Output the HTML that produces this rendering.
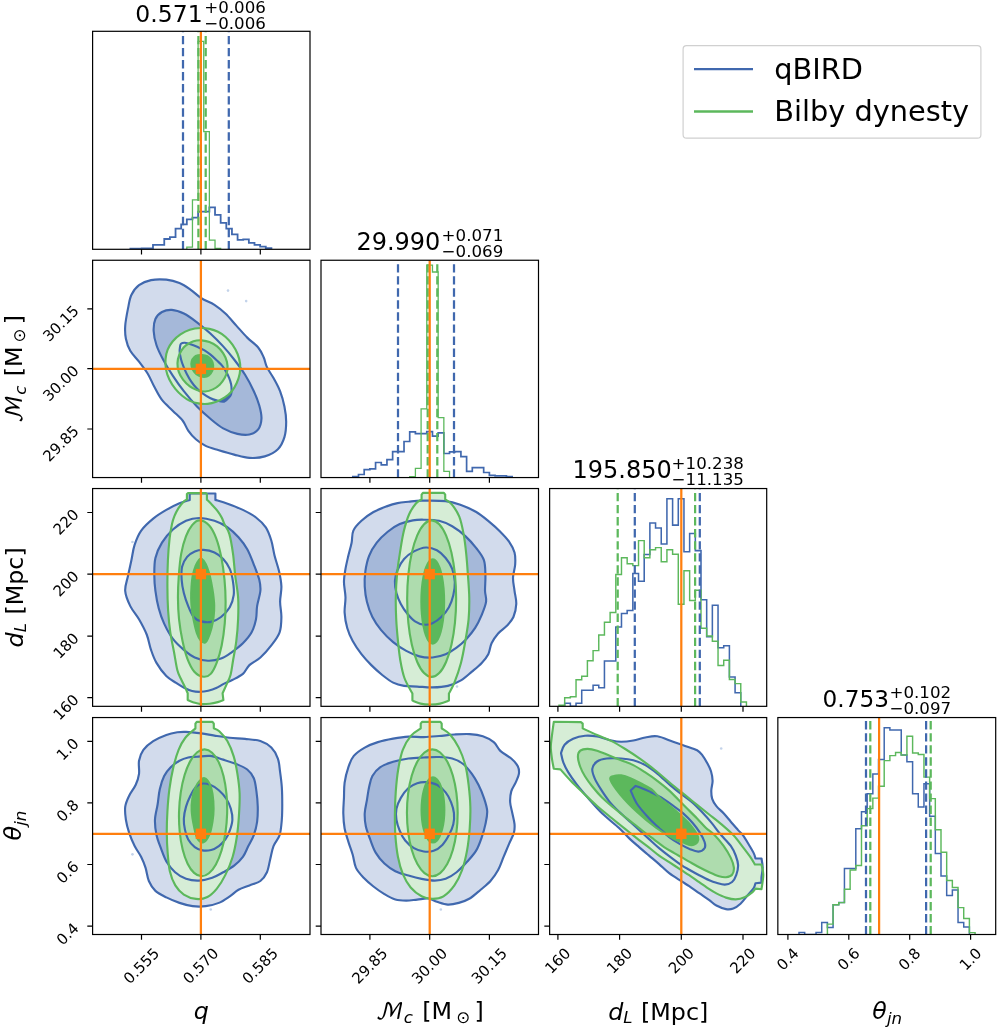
<!DOCTYPE html>
<html lang="en"><head><meta charset="utf-8"><title>Corner plot: qBIRD vs Bilby dynesty</title>
<style>html,body{margin:0;padding:0;background:#fff}svg{display:block}</style></head>
<body>
<svg width="997" height="1027" viewBox="0 0 997 1027">
<rect width="997" height="1027" fill="#fff"/>
<defs>
<clipPath id="cp00"><rect x="92.6" y="31.3" width="217.4" height="218"/></clipPath>
<clipPath id="cp10"><rect x="92.6" y="260.25" width="217.4" height="217.3"/></clipPath>
<clipPath id="cp11"><rect x="321" y="260.25" width="217.5" height="217.3"/></clipPath>
<clipPath id="cp20"><rect x="92.6" y="488.54" width="217.4" height="217.79"/></clipPath>
<clipPath id="cp21"><rect x="321" y="488.54" width="217.5" height="217.79"/></clipPath>
<clipPath id="cp22"><rect x="549.63" y="488.54" width="217.07" height="217.79"/></clipPath>
<clipPath id="cp30"><rect x="92.6" y="717.55" width="217.4" height="216.95"/></clipPath>
<clipPath id="cp31"><rect x="321" y="717.55" width="217.5" height="216.95"/></clipPath>
<clipPath id="cp32"><rect x="549.63" y="717.55" width="217.07" height="216.95"/></clipPath>
<clipPath id="cp33"><rect x="777.84" y="717.55" width="217.86" height="216.95"/></clipPath>
</defs>
<g clip-path="url(#cp10)">
<circle cx="228.02" cy="290.61" r="1.3" fill="#c3d3ea"/>
<circle cx="246.17" cy="301.11" r="1.3" fill="#c3d3ea"/>
<path d="M131.36 294.99C133.18 291.16 135.73 287.63 139.02 285.15C142.3 282.67 146.49 281.03 151.04 280.12C155.6 279.21 161.61 279.21 166.35 279.68C171.09 280.15 175.46 281.32 179.47 282.96C183.48 284.6 186.76 286.97 190.4 289.52C194.05 292.07 197.33 295.72 201.34 298.27C205.35 300.82 210.45 302.28 214.46 304.83C218.47 307.38 221.75 310.11 225.39 313.58C229.04 317.04 232.68 321.59 236.33 325.6C239.97 329.61 243.61 333.98 247.26 337.63C250.9 341.27 255.46 344.19 258.19 347.47C260.93 350.75 262.2 354.03 263.66 357.31C265.12 360.59 265.3 363.69 266.94 367.15C268.58 370.61 271.31 374.08 273.5 378.08C275.69 382.09 278.24 386.47 280.06 391.2C281.88 395.94 283.41 401.41 284.43 406.51C285.45 411.61 286.18 416.72 286.18 421.82C286.18 426.92 285.82 432.57 284.43 437.13C283.05 441.68 281.15 445.95 277.87 449.15C274.59 452.36 269.49 454.91 264.75 456.37C260.02 457.83 254.55 458.19 249.45 457.9C244.34 457.61 239.24 455.9 234.14 454.62C229.04 453.34 223.57 451.7 218.83 450.25C214.09 448.79 209.54 447.7 205.71 445.87C201.88 444.05 198.79 441.86 195.87 439.31C192.95 436.76 190.4 433.66 188.22 430.57C186.03 427.47 185.3 424.01 182.75 420.73C180.2 417.45 176.37 414.35 172.91 410.89C169.45 407.42 165.07 403.96 161.98 399.95C158.88 395.94 156.69 391.2 154.32 386.83C151.95 382.46 150.31 377.9 147.76 373.71C145.21 369.52 141.93 365.51 139.02 361.68C136.1 357.86 132.45 354.58 130.27 350.75C128.08 346.92 126.73 342.91 125.89 338.72C125.06 334.53 124.87 330.7 125.24 325.6C125.6 320.5 127.06 313.21 128.08 308.11C129.1 303.01 129.54 298.81 131.36 294.99Z" fill="#d2dbec"/>
<path d="M155.42 319.04C156.8 315.87 159.24 313.58 161.98 312.04C164.71 310.51 168.17 309.6 171.82 309.86C175.46 310.11 179.65 311.5 183.84 313.58C188.03 315.65 192.59 319.04 196.96 322.32C201.34 325.6 205.71 329.25 210.08 333.26C214.46 337.27 219.2 342 223.2 346.38C227.21 350.75 230.49 354.76 234.14 359.5C237.78 364.24 241.79 369.52 245.07 374.8C248.35 380.09 251.45 386.1 253.82 391.2C256.19 396.31 258.01 400.86 259.29 405.42C260.56 409.97 261.66 414.53 261.47 418.54C261.29 422.55 260.2 426.81 258.19 429.47C256.19 432.13 252.91 433.77 249.45 434.5C245.98 435.23 241.79 434.87 237.42 433.85C233.05 432.83 227.76 430.93 223.2 428.38C218.65 425.83 214.46 422.18 210.08 418.54C205.71 414.89 201.34 411.07 196.96 406.51C192.59 401.96 187.85 396.31 183.84 391.2C179.83 386.1 176.37 381.18 172.91 375.9C169.45 370.61 165.8 364.6 163.07 359.5C160.34 354.39 158.08 350.02 156.51 345.28C154.94 340.55 153.85 335.44 153.67 331.07C153.48 326.7 154.03 322.21 155.42 319.04Z" fill="#a5b8d9"/>
<path d="M180 347C180.22 345.62 180.2 344.5 181 343.8C181.8 343.1 183.08 342.7 184.8 342.8C186.52 342.9 189.15 343.7 191.3 344.4C193.45 345.1 195.57 346.03 197.7 347C199.83 347.97 201.97 348.92 204.1 350.2C206.23 351.48 208.37 352.98 210.5 354.7C212.63 356.42 214.97 358.68 216.9 360.5C218.83 362.32 220.6 363.78 222.1 365.6C223.6 367.42 224.73 369.37 225.9 371.4C227.07 373.43 228.23 375.67 229.1 377.8C229.97 379.93 230.68 382.25 231.1 384.2C231.52 386.15 231.58 387.9 231.6 389.5C231.62 391.1 231.53 392.58 231.2 393.8C230.87 395.02 230.78 395.5 229.6 396.8C228.42 398.1 226.28 401 224.1 401.6C221.92 402.2 218.85 401 216.5 400.4C214.15 399.8 212.38 399.2 210 398C207.62 396.8 204.47 394.85 202.2 393.2C199.93 391.55 198.22 390.03 196.4 388.1C194.58 386.17 192.9 383.97 191.3 381.6C189.7 379.23 188.08 376.35 186.8 373.9C185.52 371.45 184.57 369.35 183.6 366.9C182.63 364.45 181.65 361.67 181 359.2C180.35 356.73 179.87 354.13 179.7 352.1C179.53 350.07 179.78 348.38 180 347Z" fill="#4068ae"/>
<path d="M200.92 327.98C204.19 327.84 206.6 328.2 209.45 328.84C212.29 329.48 215.27 330.47 217.97 331.82C220.67 333.17 223.23 334.8 225.64 336.94C228.06 339.07 230.47 341.77 232.46 344.61C234.45 347.45 236.3 350.72 237.58 353.99C238.86 357.25 239.78 360.95 240.14 364.22C240.49 367.48 240.28 370.47 239.71 373.59C239.14 376.72 238.08 379.99 236.73 382.97C235.38 385.95 233.6 389.08 231.61 391.5C229.62 393.91 227.35 395.76 224.79 397.46C222.23 399.17 219.11 400.66 216.27 401.73C213.42 402.79 210.72 403.57 207.74 403.86C204.76 404.14 201.35 403.93 198.36 403.43C195.38 402.93 192.54 402.15 189.84 400.87C187.14 399.6 184.58 397.75 182.17 395.76C179.75 393.77 177.48 391.64 175.35 388.94C173.21 386.24 170.94 382.83 169.38 379.56C167.81 376.29 166.61 372.74 165.97 369.33C165.33 365.92 165.26 362.37 165.54 359.1C165.83 355.83 166.46 352.71 167.67 349.72C168.88 346.74 170.66 343.76 172.79 341.2C174.92 338.64 177.62 336.3 180.46 334.38C183.3 332.46 186.43 330.75 189.84 329.69C193.25 328.62 197.65 328.13 200.92 327.98Z" fill="#d6edd6"/>
<path d="M201.77 340.35C203.9 340.6 206.89 341.06 209.45 342.05C212 343.04 214.85 344.47 217.12 346.31C219.39 348.16 221.45 350.58 223.09 353.13C224.72 355.69 226.21 358.82 226.92 361.66C227.63 364.5 227.7 367.48 227.35 370.18C226.99 372.88 226.07 375.44 224.79 377.86C223.51 380.27 221.67 382.76 219.68 384.68C217.69 386.59 215.27 388.23 212.86 389.36C210.44 390.5 207.74 391.35 205.18 391.5C202.63 391.64 200.07 391.07 197.51 390.22C194.95 389.36 192.25 388.16 189.84 386.38C187.42 384.61 184.87 381.98 183.02 379.56C181.17 377.15 179.68 374.59 178.76 371.89C177.83 369.19 177.41 366.2 177.48 363.36C177.55 360.52 178.12 357.54 179.18 354.84C180.25 352.14 181.95 349.23 183.87 347.17C185.79 345.11 188.56 343.58 190.69 342.48C192.82 341.37 194.81 340.87 196.66 340.52C198.51 340.16 199.64 340.09 201.77 340.35Z" fill="#aedcae"/>
<path d="M202.2 355.01C203.76 355.15 205.82 355.42 207.31 356.2C208.81 356.98 210.18 358.21 211.15 359.7C212.12 361.19 212.91 363.33 213.11 365.15C213.31 366.97 213.05 368.92 212.34 370.61C211.63 372.3 210.21 374.26 208.85 375.3C207.49 376.34 205.85 376.78 204.16 376.83C202.47 376.89 200.32 376.42 198.7 375.64C197.08 374.86 195.61 373.64 194.44 372.14C193.28 370.65 192.17 368.51 191.71 366.69C191.26 364.87 191.26 362.85 191.71 361.23C192.17 359.61 193.4 357.95 194.44 356.97C195.48 355.99 196.64 355.68 197.94 355.35C199.23 355.02 200.64 354.87 202.2 355.01Z" fill="#5cb85c"/>
<path d="M131.36 294.99C133.18 291.16 135.73 287.63 139.02 285.15C142.3 282.67 146.49 281.03 151.04 280.12C155.6 279.21 161.61 279.21 166.35 279.68C171.09 280.15 175.46 281.32 179.47 282.96C183.48 284.6 186.76 286.97 190.4 289.52C194.05 292.07 197.33 295.72 201.34 298.27C205.35 300.82 210.45 302.28 214.46 304.83C218.47 307.38 221.75 310.11 225.39 313.58C229.04 317.04 232.68 321.59 236.33 325.6C239.97 329.61 243.61 333.98 247.26 337.63C250.9 341.27 255.46 344.19 258.19 347.47C260.93 350.75 262.2 354.03 263.66 357.31C265.12 360.59 265.3 363.69 266.94 367.15C268.58 370.61 271.31 374.08 273.5 378.08C275.69 382.09 278.24 386.47 280.06 391.2C281.88 395.94 283.41 401.41 284.43 406.51C285.45 411.61 286.18 416.72 286.18 421.82C286.18 426.92 285.82 432.57 284.43 437.13C283.05 441.68 281.15 445.95 277.87 449.15C274.59 452.36 269.49 454.91 264.75 456.37C260.02 457.83 254.55 458.19 249.45 457.9C244.34 457.61 239.24 455.9 234.14 454.62C229.04 453.34 223.57 451.7 218.83 450.25C214.09 448.79 209.54 447.7 205.71 445.87C201.88 444.05 198.79 441.86 195.87 439.31C192.95 436.76 190.4 433.66 188.22 430.57C186.03 427.47 185.3 424.01 182.75 420.73C180.2 417.45 176.37 414.35 172.91 410.89C169.45 407.42 165.07 403.96 161.98 399.95C158.88 395.94 156.69 391.2 154.32 386.83C151.95 382.46 150.31 377.9 147.76 373.71C145.21 369.52 141.93 365.51 139.02 361.68C136.1 357.86 132.45 354.58 130.27 350.75C128.08 346.92 126.73 342.91 125.89 338.72C125.06 334.53 124.87 330.7 125.24 325.6C125.6 320.5 127.06 313.21 128.08 308.11C129.1 303.01 129.54 298.81 131.36 294.99Z" fill="none" stroke="#4068ae" stroke-width="2.15" stroke-linejoin="round"/>
<path d="M155.42 319.04C156.8 315.87 159.24 313.58 161.98 312.04C164.71 310.51 168.17 309.6 171.82 309.86C175.46 310.11 179.65 311.5 183.84 313.58C188.03 315.65 192.59 319.04 196.96 322.32C201.34 325.6 205.71 329.25 210.08 333.26C214.46 337.27 219.2 342 223.2 346.38C227.21 350.75 230.49 354.76 234.14 359.5C237.78 364.24 241.79 369.52 245.07 374.8C248.35 380.09 251.45 386.1 253.82 391.2C256.19 396.31 258.01 400.86 259.29 405.42C260.56 409.97 261.66 414.53 261.47 418.54C261.29 422.55 260.2 426.81 258.19 429.47C256.19 432.13 252.91 433.77 249.45 434.5C245.98 435.23 241.79 434.87 237.42 433.85C233.05 432.83 227.76 430.93 223.2 428.38C218.65 425.83 214.46 422.18 210.08 418.54C205.71 414.89 201.34 411.07 196.96 406.51C192.59 401.96 187.85 396.31 183.84 391.2C179.83 386.1 176.37 381.18 172.91 375.9C169.45 370.61 165.8 364.6 163.07 359.5C160.34 354.39 158.08 350.02 156.51 345.28C154.94 340.55 153.85 335.44 153.67 331.07C153.48 326.7 154.03 322.21 155.42 319.04Z" fill="none" stroke="#4068ae" stroke-width="2.15" stroke-linejoin="round"/>
<path d="M180 347C180.22 345.62 180.2 344.5 181 343.8C181.8 343.1 183.08 342.7 184.8 342.8C186.52 342.9 189.15 343.7 191.3 344.4C193.45 345.1 195.57 346.03 197.7 347C199.83 347.97 201.97 348.92 204.1 350.2C206.23 351.48 208.37 352.98 210.5 354.7C212.63 356.42 214.97 358.68 216.9 360.5C218.83 362.32 220.6 363.78 222.1 365.6C223.6 367.42 224.73 369.37 225.9 371.4C227.07 373.43 228.23 375.67 229.1 377.8C229.97 379.93 230.68 382.25 231.1 384.2C231.52 386.15 231.58 387.9 231.6 389.5C231.62 391.1 231.53 392.58 231.2 393.8C230.87 395.02 230.78 395.5 229.6 396.8C228.42 398.1 226.28 401 224.1 401.6C221.92 402.2 218.85 401 216.5 400.4C214.15 399.8 212.38 399.2 210 398C207.62 396.8 204.47 394.85 202.2 393.2C199.93 391.55 198.22 390.03 196.4 388.1C194.58 386.17 192.9 383.97 191.3 381.6C189.7 379.23 188.08 376.35 186.8 373.9C185.52 371.45 184.57 369.35 183.6 366.9C182.63 364.45 181.65 361.67 181 359.2C180.35 356.73 179.87 354.13 179.7 352.1C179.53 350.07 179.78 348.38 180 347Z" fill="none" stroke="#4068ae" stroke-width="2.15" stroke-linejoin="round"/>
<path d="M200.92 327.98C204.19 327.84 206.6 328.2 209.45 328.84C212.29 329.48 215.27 330.47 217.97 331.82C220.67 333.17 223.23 334.8 225.64 336.94C228.06 339.07 230.47 341.77 232.46 344.61C234.45 347.45 236.3 350.72 237.58 353.99C238.86 357.25 239.78 360.95 240.14 364.22C240.49 367.48 240.28 370.47 239.71 373.59C239.14 376.72 238.08 379.99 236.73 382.97C235.38 385.95 233.6 389.08 231.61 391.5C229.62 393.91 227.35 395.76 224.79 397.46C222.23 399.17 219.11 400.66 216.27 401.73C213.42 402.79 210.72 403.57 207.74 403.86C204.76 404.14 201.35 403.93 198.36 403.43C195.38 402.93 192.54 402.15 189.84 400.87C187.14 399.6 184.58 397.75 182.17 395.76C179.75 393.77 177.48 391.64 175.35 388.94C173.21 386.24 170.94 382.83 169.38 379.56C167.81 376.29 166.61 372.74 165.97 369.33C165.33 365.92 165.26 362.37 165.54 359.1C165.83 355.83 166.46 352.71 167.67 349.72C168.88 346.74 170.66 343.76 172.79 341.2C174.92 338.64 177.62 336.3 180.46 334.38C183.3 332.46 186.43 330.75 189.84 329.69C193.25 328.62 197.65 328.13 200.92 327.98Z" fill="none" stroke="#5cb85c" stroke-width="2.15" stroke-linejoin="round"/>
<path d="M201.77 340.35C203.9 340.6 206.89 341.06 209.45 342.05C212 343.04 214.85 344.47 217.12 346.31C219.39 348.16 221.45 350.58 223.09 353.13C224.72 355.69 226.21 358.82 226.92 361.66C227.63 364.5 227.7 367.48 227.35 370.18C226.99 372.88 226.07 375.44 224.79 377.86C223.51 380.27 221.67 382.76 219.68 384.68C217.69 386.59 215.27 388.23 212.86 389.36C210.44 390.5 207.74 391.35 205.18 391.5C202.63 391.64 200.07 391.07 197.51 390.22C194.95 389.36 192.25 388.16 189.84 386.38C187.42 384.61 184.87 381.98 183.02 379.56C181.17 377.15 179.68 374.59 178.76 371.89C177.83 369.19 177.41 366.2 177.48 363.36C177.55 360.52 178.12 357.54 179.18 354.84C180.25 352.14 181.95 349.23 183.87 347.17C185.79 345.11 188.56 343.58 190.69 342.48C192.82 341.37 194.81 340.87 196.66 340.52C198.51 340.16 199.64 340.09 201.77 340.35Z" fill="none" stroke="#5cb85c" stroke-width="2.15" stroke-linejoin="round"/>
<path d="M202.2 355.01C203.76 355.15 205.82 355.42 207.31 356.2C208.81 356.98 210.18 358.21 211.15 359.7C212.12 361.19 212.91 363.33 213.11 365.15C213.31 366.97 213.05 368.92 212.34 370.61C211.63 372.3 210.21 374.26 208.85 375.3C207.49 376.34 205.85 376.78 204.16 376.83C202.47 376.89 200.32 376.42 198.7 375.64C197.08 374.86 195.61 373.64 194.44 372.14C193.28 370.65 192.17 368.51 191.71 366.69C191.26 364.87 191.26 362.85 191.71 361.23C192.17 359.61 193.4 357.95 194.44 356.97C195.48 355.99 196.64 355.68 197.94 355.35C199.23 355.02 200.64 354.87 202.2 355.01Z" fill="none" stroke="#5cb85c" stroke-width="2.15" stroke-linejoin="round"/>
</g>
<path d="M200.9 260.25V477.55M92.6 368.9H310" stroke="#ff7f0e" stroke-width="2.25" fill="none"/>
<rect x="195.7" y="363.7" width="10.4" height="10.4" fill="#ff7f0e"/>
<g clip-path="url(#cp20)">
<circle cx="132.45" cy="542.01" r="1.3" fill="#c3d3ea"/>
<path d="M189.7 499.9L189.7 493.5L215.4 493.5L215.4 499.9L215.4 499.9C217.43 500.53 223.02 502.03 227.6 503.7C232.18 505.37 238.17 507.6 242.9 509.9C247.63 512.2 252.18 514.58 256 517.5C259.82 520.42 263.25 523.57 265.8 527.4C268.35 531.23 269.83 535.77 271.3 540.5C272.77 545.23 273.32 550.7 274.6 555.8C275.88 560.9 277.87 566 279 571.1C280.13 576.2 281.22 581.3 281.4 586.4C281.58 591.5 280.1 596.6 280.1 601.7C280.1 606.8 281.48 611.9 281.4 617C281.32 622.1 281.28 627.57 279.6 632.3C277.92 637.03 274.5 641.2 271.3 645.4C268.1 649.6 264.05 654.22 260.4 657.5C256.75 660.78 252.32 662.37 249.4 665.1C246.48 667.83 245.77 671.42 242.9 673.9C240.03 676.38 235.32 678.38 232.2 680C229.08 681.62 226.87 682.25 224.2 683.6C221.53 684.95 218.87 686.92 216.2 688.1C213.53 689.28 210.88 690.08 208.2 690.7C205.52 691.32 202.78 691.75 200.1 691.8C197.42 691.85 194.77 691.68 192.1 691C189.43 690.32 186.77 689.07 184.1 687.7C181.43 686.33 179.07 684.73 176.1 682.8C173.13 680.87 169.57 679.42 166.3 676.1C163.03 672.78 159.05 667.28 156.5 662.9C153.95 658.52 152.63 654.53 151 649.8C149.37 645.07 148.7 639.6 146.7 634.5C144.7 629.4 141.73 623.93 139 619.2C136.27 614.47 132.6 610.83 130.3 606.1C128 601.37 125.57 595.9 125.2 590.8C124.83 585.7 127.07 580.6 128.1 575.5C129.13 570.4 130.32 565.3 131.4 560.2C132.48 555.1 132.97 549.83 134.6 544.9C136.23 539.97 138.1 534.98 141.2 530.6C144.3 526.22 149.02 522.05 153.2 518.6C157.38 515.15 161.92 512.45 166.3 509.9C170.68 507.35 175.6 504.97 179.5 503.3C183.4 501.63 188 500.47 189.7 499.9Z" fill="#d2dbec"/>
<path d="M199.15 517.96C203.89 517.96 209.72 519.23 214.46 520.8C219.2 522.37 223.57 524.63 227.58 527.36C231.59 530.09 235.23 533.56 238.51 537.2C241.79 540.85 244.71 544.67 247.26 549.23C249.81 553.78 251.81 559.43 253.82 564.54C255.82 569.64 258.19 575.47 259.29 579.84C260.38 584.22 260.74 586.4 260.38 590.78C260.02 595.15 257.83 601.35 257.1 606.08C256.37 610.82 256.92 614.83 256.01 619.2C255.09 623.58 253.82 628.32 251.63 632.33C249.45 636.33 246.17 639.98 242.89 643.26C239.61 646.54 235.6 649.45 231.95 652.01C228.31 654.56 225.03 657.11 221.02 658.57C217.01 660.02 212.27 660.94 207.9 660.75C203.52 660.57 198.79 659.3 194.78 657.47C190.77 655.65 187.49 652.92 183.84 649.82C180.2 646.72 176.19 643.26 172.91 638.89C169.63 634.51 166.53 628.68 164.16 623.58C161.79 618.48 160.15 613.74 158.7 608.27C157.24 602.8 156.14 596.24 155.42 590.78C154.69 585.31 154.32 580.94 154.32 575.47C154.32 570 154.14 563.44 155.42 557.98C156.69 552.51 159.06 547.41 161.98 542.67C164.89 537.93 168.9 533.19 172.91 529.55C176.92 525.9 181.66 522.73 186.03 520.8C190.4 518.87 194.41 517.96 199.15 517.96Z" fill="#a5b8d9"/>
<path d="M203.52 549.88C206.8 550.07 211.18 550.98 214.46 552.51C217.74 554.04 220.65 556.34 223.2 559.07C225.76 561.8 228.13 565.08 229.77 568.91C231.41 572.74 232.39 577.66 233.05 582.03C233.7 586.4 234.25 590.96 233.7 595.15C233.15 599.34 231.88 603.53 229.77 607.18C227.65 610.82 224.12 614.58 221.02 617.02C217.92 619.46 214.46 621.1 211.18 621.83C207.9 622.56 204.25 622.19 201.34 621.39C198.42 620.59 195.87 619.57 193.68 617.02C191.5 614.47 189.86 610.09 188.22 606.08C186.58 602.08 184.94 597.34 183.84 592.96C182.75 588.59 181.95 584.22 181.66 579.84C181.37 575.47 181.18 570.55 182.09 566.72C183.01 562.9 185.01 559.43 187.12 556.88C189.24 554.33 192.04 552.58 194.78 551.42C197.51 550.25 200.24 549.7 203.52 549.88Z" fill="#4068ae"/>
<path d="M186.9 499.65L186.9 494L188 493.1L205.8 493.1L206.9 494L206.9 499.65L206.9 499.65C207.78 500.52 210.38 502.96 212.2 504.9C214.02 506.84 216.2 509.17 217.8 511.3C219.4 513.43 220.72 515.58 221.8 517.7C222.88 519.82 223.05 521.3 224.3 524C225.55 526.7 227.85 528.97 229.3 533.9C230.75 538.83 232.02 546.67 233 553.6C233.98 560.53 234.35 568.22 235.2 575.5C236.05 582.78 237.62 590.02 238.1 597.3C238.58 604.58 238.4 611.9 238.1 619.2C237.8 626.5 237.15 634.17 236.3 641.1C235.45 648.03 233.95 655.18 233 660.8C232.05 666.42 231.67 670.87 230.6 674.8C229.53 678.73 227.93 681.32 226.6 684.4C225.27 687.48 223.27 691.82 222.6 693.3L222.6 693.3L223.4 700.1L223.4 700.1C222.47 700.43 220.07 701.5 217.8 702.1C215.53 702.7 212.62 703.37 209.8 703.7C206.98 704.03 203.58 704.3 200.9 704.1C198.22 703.9 195.9 703.17 193.7 702.5C191.5 701.83 188.7 700.5 187.7 700.1L187.7 700.1L187.7 693.3L187.7 693.3C187.23 692.23 186.03 689.32 184.9 686.9C183.77 684.48 182.17 681.62 180.9 678.8C179.63 675.98 178.45 674.47 177.3 670C176.15 665.53 175.17 658.28 174 652C172.83 645.72 171.28 639.22 170.3 632.3C169.32 625.38 168.58 618.15 168.1 610.5C167.62 602.85 167.43 594.78 167.4 586.4C167.37 578.02 167.53 568.22 167.9 560.2C168.27 552.18 168.92 544.33 169.6 538.3C170.28 532.27 171.2 527.7 172 524C172.8 520.3 173.32 518.75 174.4 516.1C175.48 513.45 176.88 510.57 178.5 508.1C180.12 505.63 182.7 502.71 184.1 501.3C185.5 499.89 186.43 499.92 186.9 499.65Z" fill="#d6edd6"/>
<path d="M199.15 520.36C201.96 520.36 206.15 522.19 208.99 525.17C211.83 528.16 214.13 532.83 216.21 538.3C218.28 543.76 220.07 551.05 221.46 557.98C222.84 564.9 223.82 572.55 224.52 579.84C225.21 587.13 225.57 594.42 225.61 601.71C225.65 609 225.39 616.29 224.74 623.58C224.08 630.87 223.02 638.89 221.67 645.45C220.33 652.01 218.47 658.2 216.64 662.94C214.82 667.68 212.93 671.58 210.74 673.87C208.55 676.17 206.26 677.08 203.52 676.72C200.79 676.35 197.04 674.71 194.34 671.69C191.64 668.66 189.31 663.67 187.34 658.57C185.37 653.46 183.92 647.63 182.53 641.07C181.15 634.51 179.8 626.49 179.03 619.2C178.27 611.92 177.98 604.63 177.94 597.34C177.9 590.05 178.27 582.76 178.81 575.47C179.36 568.18 180.02 560.16 181.22 553.6C182.42 547.04 184.21 540.85 186.03 536.11C187.85 531.37 189.97 527.8 192.15 525.17C194.34 522.55 196.34 520.36 199.15 520.36Z" fill="#aedcae"/>
<path d="M201.45 558.69C202.58 559.33 204.39 561.57 205.65 563.95C206.92 566.32 208.09 569.71 209.04 572.94C210 576.18 210.7 579.86 211.38 583.34C212.06 586.83 212.66 590.18 213.13 593.86C213.6 597.54 214.1 601.57 214.18 605.42C214.26 609.28 214.07 613.15 213.6 616.99C213.13 620.82 212.31 624.87 211.38 628.43C210.44 632 209 636.01 207.99 638.36C206.98 640.72 206.51 642.2 205.3 642.57C204.1 642.94 202.15 642.16 200.75 640.58C199.35 639.01 198.02 636.28 196.89 633.11C195.76 629.93 194.79 625.4 193.97 621.54C193.15 617.69 192.45 613.83 191.99 609.98C191.52 606.12 191.25 602.25 191.17 598.41C191.09 594.58 191.25 590.8 191.52 586.96C191.79 583.13 192.12 578.92 192.8 575.4C193.49 571.87 194.6 568.37 195.61 565.82C196.62 563.27 197.9 561.28 198.88 560.09C199.85 558.91 200.32 558.05 201.45 558.69Z" fill="#5cb85c"/>
<path d="M189.7 499.9L189.7 493.5L215.4 493.5L215.4 499.9L215.4 499.9C217.43 500.53 223.02 502.03 227.6 503.7C232.18 505.37 238.17 507.6 242.9 509.9C247.63 512.2 252.18 514.58 256 517.5C259.82 520.42 263.25 523.57 265.8 527.4C268.35 531.23 269.83 535.77 271.3 540.5C272.77 545.23 273.32 550.7 274.6 555.8C275.88 560.9 277.87 566 279 571.1C280.13 576.2 281.22 581.3 281.4 586.4C281.58 591.5 280.1 596.6 280.1 601.7C280.1 606.8 281.48 611.9 281.4 617C281.32 622.1 281.28 627.57 279.6 632.3C277.92 637.03 274.5 641.2 271.3 645.4C268.1 649.6 264.05 654.22 260.4 657.5C256.75 660.78 252.32 662.37 249.4 665.1C246.48 667.83 245.77 671.42 242.9 673.9C240.03 676.38 235.32 678.38 232.2 680C229.08 681.62 226.87 682.25 224.2 683.6C221.53 684.95 218.87 686.92 216.2 688.1C213.53 689.28 210.88 690.08 208.2 690.7C205.52 691.32 202.78 691.75 200.1 691.8C197.42 691.85 194.77 691.68 192.1 691C189.43 690.32 186.77 689.07 184.1 687.7C181.43 686.33 179.07 684.73 176.1 682.8C173.13 680.87 169.57 679.42 166.3 676.1C163.03 672.78 159.05 667.28 156.5 662.9C153.95 658.52 152.63 654.53 151 649.8C149.37 645.07 148.7 639.6 146.7 634.5C144.7 629.4 141.73 623.93 139 619.2C136.27 614.47 132.6 610.83 130.3 606.1C128 601.37 125.57 595.9 125.2 590.8C124.83 585.7 127.07 580.6 128.1 575.5C129.13 570.4 130.32 565.3 131.4 560.2C132.48 555.1 132.97 549.83 134.6 544.9C136.23 539.97 138.1 534.98 141.2 530.6C144.3 526.22 149.02 522.05 153.2 518.6C157.38 515.15 161.92 512.45 166.3 509.9C170.68 507.35 175.6 504.97 179.5 503.3C183.4 501.63 188 500.47 189.7 499.9Z" fill="none" stroke="#4068ae" stroke-width="2.15" stroke-linejoin="round"/>
<path d="M199.15 517.96C203.89 517.96 209.72 519.23 214.46 520.8C219.2 522.37 223.57 524.63 227.58 527.36C231.59 530.09 235.23 533.56 238.51 537.2C241.79 540.85 244.71 544.67 247.26 549.23C249.81 553.78 251.81 559.43 253.82 564.54C255.82 569.64 258.19 575.47 259.29 579.84C260.38 584.22 260.74 586.4 260.38 590.78C260.02 595.15 257.83 601.35 257.1 606.08C256.37 610.82 256.92 614.83 256.01 619.2C255.09 623.58 253.82 628.32 251.63 632.33C249.45 636.33 246.17 639.98 242.89 643.26C239.61 646.54 235.6 649.45 231.95 652.01C228.31 654.56 225.03 657.11 221.02 658.57C217.01 660.02 212.27 660.94 207.9 660.75C203.52 660.57 198.79 659.3 194.78 657.47C190.77 655.65 187.49 652.92 183.84 649.82C180.2 646.72 176.19 643.26 172.91 638.89C169.63 634.51 166.53 628.68 164.16 623.58C161.79 618.48 160.15 613.74 158.7 608.27C157.24 602.8 156.14 596.24 155.42 590.78C154.69 585.31 154.32 580.94 154.32 575.47C154.32 570 154.14 563.44 155.42 557.98C156.69 552.51 159.06 547.41 161.98 542.67C164.89 537.93 168.9 533.19 172.91 529.55C176.92 525.9 181.66 522.73 186.03 520.8C190.4 518.87 194.41 517.96 199.15 517.96Z" fill="none" stroke="#4068ae" stroke-width="2.15" stroke-linejoin="round"/>
<path d="M203.52 549.88C206.8 550.07 211.18 550.98 214.46 552.51C217.74 554.04 220.65 556.34 223.2 559.07C225.76 561.8 228.13 565.08 229.77 568.91C231.41 572.74 232.39 577.66 233.05 582.03C233.7 586.4 234.25 590.96 233.7 595.15C233.15 599.34 231.88 603.53 229.77 607.18C227.65 610.82 224.12 614.58 221.02 617.02C217.92 619.46 214.46 621.1 211.18 621.83C207.9 622.56 204.25 622.19 201.34 621.39C198.42 620.59 195.87 619.57 193.68 617.02C191.5 614.47 189.86 610.09 188.22 606.08C186.58 602.08 184.94 597.34 183.84 592.96C182.75 588.59 181.95 584.22 181.66 579.84C181.37 575.47 181.18 570.55 182.09 566.72C183.01 562.9 185.01 559.43 187.12 556.88C189.24 554.33 192.04 552.58 194.78 551.42C197.51 550.25 200.24 549.7 203.52 549.88Z" fill="none" stroke="#4068ae" stroke-width="2.15" stroke-linejoin="round"/>
<path d="M186.9 499.65L186.9 494L188 493.1L205.8 493.1L206.9 494L206.9 499.65L206.9 499.65C207.78 500.52 210.38 502.96 212.2 504.9C214.02 506.84 216.2 509.17 217.8 511.3C219.4 513.43 220.72 515.58 221.8 517.7C222.88 519.82 223.05 521.3 224.3 524C225.55 526.7 227.85 528.97 229.3 533.9C230.75 538.83 232.02 546.67 233 553.6C233.98 560.53 234.35 568.22 235.2 575.5C236.05 582.78 237.62 590.02 238.1 597.3C238.58 604.58 238.4 611.9 238.1 619.2C237.8 626.5 237.15 634.17 236.3 641.1C235.45 648.03 233.95 655.18 233 660.8C232.05 666.42 231.67 670.87 230.6 674.8C229.53 678.73 227.93 681.32 226.6 684.4C225.27 687.48 223.27 691.82 222.6 693.3L222.6 693.3L223.4 700.1L223.4 700.1C222.47 700.43 220.07 701.5 217.8 702.1C215.53 702.7 212.62 703.37 209.8 703.7C206.98 704.03 203.58 704.3 200.9 704.1C198.22 703.9 195.9 703.17 193.7 702.5C191.5 701.83 188.7 700.5 187.7 700.1L187.7 700.1L187.7 693.3L187.7 693.3C187.23 692.23 186.03 689.32 184.9 686.9C183.77 684.48 182.17 681.62 180.9 678.8C179.63 675.98 178.45 674.47 177.3 670C176.15 665.53 175.17 658.28 174 652C172.83 645.72 171.28 639.22 170.3 632.3C169.32 625.38 168.58 618.15 168.1 610.5C167.62 602.85 167.43 594.78 167.4 586.4C167.37 578.02 167.53 568.22 167.9 560.2C168.27 552.18 168.92 544.33 169.6 538.3C170.28 532.27 171.2 527.7 172 524C172.8 520.3 173.32 518.75 174.4 516.1C175.48 513.45 176.88 510.57 178.5 508.1C180.12 505.63 182.7 502.71 184.1 501.3C185.5 499.89 186.43 499.92 186.9 499.65Z" fill="none" stroke="#5cb85c" stroke-width="2.15" stroke-linejoin="round"/>
<path d="M199.15 520.36C201.96 520.36 206.15 522.19 208.99 525.17C211.83 528.16 214.13 532.83 216.21 538.3C218.28 543.76 220.07 551.05 221.46 557.98C222.84 564.9 223.82 572.55 224.52 579.84C225.21 587.13 225.57 594.42 225.61 601.71C225.65 609 225.39 616.29 224.74 623.58C224.08 630.87 223.02 638.89 221.67 645.45C220.33 652.01 218.47 658.2 216.64 662.94C214.82 667.68 212.93 671.58 210.74 673.87C208.55 676.17 206.26 677.08 203.52 676.72C200.79 676.35 197.04 674.71 194.34 671.69C191.64 668.66 189.31 663.67 187.34 658.57C185.37 653.46 183.92 647.63 182.53 641.07C181.15 634.51 179.8 626.49 179.03 619.2C178.27 611.92 177.98 604.63 177.94 597.34C177.9 590.05 178.27 582.76 178.81 575.47C179.36 568.18 180.02 560.16 181.22 553.6C182.42 547.04 184.21 540.85 186.03 536.11C187.85 531.37 189.97 527.8 192.15 525.17C194.34 522.55 196.34 520.36 199.15 520.36Z" fill="none" stroke="#5cb85c" stroke-width="2.15" stroke-linejoin="round"/>
<path d="M201.45 558.69C202.58 559.33 204.39 561.57 205.65 563.95C206.92 566.32 208.09 569.71 209.04 572.94C210 576.18 210.7 579.86 211.38 583.34C212.06 586.83 212.66 590.18 213.13 593.86C213.6 597.54 214.1 601.57 214.18 605.42C214.26 609.28 214.07 613.15 213.6 616.99C213.13 620.82 212.31 624.87 211.38 628.43C210.44 632 209 636.01 207.99 638.36C206.98 640.72 206.51 642.2 205.3 642.57C204.1 642.94 202.15 642.16 200.75 640.58C199.35 639.01 198.02 636.28 196.89 633.11C195.76 629.93 194.79 625.4 193.97 621.54C193.15 617.69 192.45 613.83 191.99 609.98C191.52 606.12 191.25 602.25 191.17 598.41C191.09 594.58 191.25 590.8 191.52 586.96C191.79 583.13 192.12 578.92 192.8 575.4C193.49 571.87 194.6 568.37 195.61 565.82C196.62 563.27 197.9 561.28 198.88 560.09C199.85 558.91 200.32 558.05 201.45 558.69Z" fill="none" stroke="#5cb85c" stroke-width="2.15" stroke-linejoin="round"/>
</g>
<path d="M200.9 488.54V706.33M92.6 574.1H310" stroke="#ff7f0e" stroke-width="2.25" fill="none"/>
<rect x="195.7" y="568.9" width="10.4" height="10.4" fill="#ff7f0e"/>
<g clip-path="url(#cp21)">
<circle cx="457.02" cy="686.56" r="1.3" fill="#c3d3ea"/>
<path d="M408.47 501.78C412.48 501.38 415.39 500.79 421.59 500.68C427.79 500.57 439.08 500.39 445.64 501.12C452.2 501.85 455.85 503.23 460.95 505.06C466.05 506.88 471.52 509.25 476.26 512.05C481 514.86 485.37 518.61 489.38 521.89C493.39 525.17 497.03 528.45 500.31 531.73C503.59 535.02 506.69 538.11 509.06 541.58C511.43 545.04 513.51 548.68 514.53 552.51C515.55 556.34 515.44 560.34 515.18 564.54C514.93 568.73 513.11 573.28 513 577.66C512.89 582.03 513.98 586.4 514.53 590.78C515.07 595.15 516.46 599.52 516.28 603.9C516.09 608.27 515 613.37 513.43 617.02C511.87 620.66 509.42 623.03 506.87 625.77C504.32 628.5 500.68 630.5 498.13 633.42C495.58 636.33 493.21 639.8 491.57 643.26C489.93 646.72 489.93 650.91 488.29 654.19C486.65 657.47 484.46 660.02 481.73 662.94C478.99 665.86 475.35 668.77 471.89 671.69C468.42 674.6 464.96 678.06 460.95 680.43C456.94 682.8 452.57 684.73 447.83 685.9C443.09 687.07 437.63 687.32 432.52 687.43C427.42 687.54 421.95 686.81 417.22 686.56C412.48 686.3 408.11 686.56 404.1 685.9C400.09 685.24 396.81 684.44 393.16 682.62C389.52 680.8 385.87 677.88 382.23 674.97C378.58 672.05 374.76 668.59 371.3 665.13C367.83 661.66 364.55 658.2 361.45 654.19C358.36 650.18 355.08 645.45 352.71 641.07C350.34 636.7 348.59 632.69 347.24 627.95C345.89 623.21 344.91 617.75 344.62 612.64C344.33 607.54 345.6 602.44 345.49 597.34C345.38 592.24 343.96 586.77 343.96 582.03C343.96 577.29 344.76 573.28 345.49 568.91C346.22 564.54 347.31 560.16 348.33 555.79C349.35 551.42 350.78 546.86 351.61 542.67C352.45 538.48 351.72 534.29 353.36 530.64C355 527 358.1 523.9 361.45 520.8C364.81 517.7 369.29 514.46 373.48 512.05C377.67 509.65 382.59 507.86 386.6 506.37C390.61 504.87 393.89 503.85 397.54 503.09C401.18 502.32 404.46 502.18 408.47 501.78Z" fill="#d2dbec"/>
<path d="M423.78 519.71C428.15 519.78 434.35 519.71 439.08 520.8C443.82 521.89 447.83 523.72 452.2 526.27C456.58 528.82 461.32 532.46 465.33 536.11C469.33 539.75 473.16 544.13 476.26 548.14C479.36 552.14 482.38 555.61 483.91 560.16C485.44 564.72 485.26 570.37 485.44 575.47C485.63 580.57 484.9 586.4 485.01 590.78C485.12 595.15 486.65 597.7 486.1 601.71C485.55 605.72 483.55 610.46 481.73 614.83C479.9 619.2 477.72 623.94 475.17 627.95C472.61 631.96 469.52 635.61 466.42 638.89C463.32 642.17 460.04 645.08 456.58 647.63C453.12 650.18 449.65 652.55 445.64 654.19C441.64 655.83 436.9 657.11 432.52 657.47C428.15 657.84 423.78 657.47 419.4 656.38C415.03 655.29 410.66 653.28 406.28 650.91C401.91 648.54 397.35 645.63 393.16 642.17C388.97 638.7 384.6 634.33 381.14 630.14C377.67 625.95 374.76 621.76 372.39 617.02C370.02 612.28 368.2 606.81 366.92 601.71C365.65 596.61 364.99 591.51 364.73 586.4C364.48 581.3 364.66 576.2 365.39 571.1C366.12 565.99 367.21 560.53 369.11 555.79C371 551.05 373.66 546.68 376.76 542.67C379.86 538.66 383.87 534.83 387.7 531.73C391.52 528.64 395.53 525.98 399.72 524.08C403.91 522.19 408.83 521.09 412.84 520.36C416.85 519.63 419.4 519.63 423.78 519.71Z" fill="#a5b8d9"/>
<path d="M425.96 547.48C429.79 547.3 433.62 548.57 436.9 550.32C440.18 552.07 443.09 554.88 445.64 557.98C448.2 561.07 450.67 564.9 452.2 568.91C453.74 572.92 454.65 577.66 454.83 582.03C455.01 586.4 454.28 590.96 453.3 595.15C452.31 599.34 450.93 603.53 448.92 607.18C446.92 610.82 444 614.36 441.27 617.02C438.54 619.68 435.44 621.87 432.52 623.14C429.61 624.42 426.69 624.96 423.78 624.67C420.86 624.38 417.76 623.21 415.03 621.39C412.3 619.57 409.75 616.65 407.38 613.74C405.01 610.82 402.64 607.36 400.82 603.9C398.99 600.44 397.43 596.79 396.44 592.96C395.46 589.14 394.73 584.76 394.91 580.94C395.09 577.11 396.01 573.65 397.54 570C399.07 566.36 401.36 562.17 404.1 559.07C406.83 555.97 410.29 553.35 413.94 551.42C417.58 549.48 422.14 547.66 425.96 547.48Z" fill="#4068ae"/>
<path d="M421.59 499.37L421.59 494.56L422.9 492.81L443.9 492.81L445.21 494.56L445.21 499.37L445.21 499.37C446.3 500.21 449.44 501.56 451.77 504.4C454.1 507.24 457.23 511.51 459.2 516.43C461.17 521.35 462.41 527.73 463.58 533.92C464.74 540.12 465.47 546.68 466.2 553.6C466.93 560.53 467.44 568.18 467.95 575.47C468.46 582.76 469.15 590.05 469.26 597.34C469.37 604.63 469.26 611.92 468.61 619.2C467.95 626.49 466.6 633.78 465.33 641.07C464.05 648.36 462.77 656.02 460.95 662.94C459.13 669.86 456.4 677.52 454.39 682.62C452.39 687.72 449.84 691.73 448.92 693.55L448.92 693.55L448.92 700.55L448.92 700.55C447.47 701.06 443.28 702.96 440.18 703.61C437.08 704.27 433.62 704.49 430.34 704.49C427.06 704.49 423.49 704.27 420.5 703.61C417.51 702.96 413.75 701.06 412.41 700.55L412.41 700.55L412.41 693.55L412.41 693.55C411.09 691 406.54 683.71 404.53 678.25C402.53 672.78 401.47 666.95 400.38 660.75C399.29 654.56 398.67 648 397.97 641.07C397.28 634.15 396.59 626.49 396.22 619.2C395.86 611.92 395.64 604.99 395.79 597.34C395.93 589.68 396.37 580.94 397.1 573.28C397.83 565.63 399.07 558.34 400.16 551.42C401.25 544.49 402.16 537.93 403.66 531.73C405.15 525.54 407.05 518.98 409.13 514.24C411.2 509.5 414.05 505.79 416.12 503.31C418.2 500.83 420.68 500.03 421.59 499.37Z" fill="#d6edd6"/>
<path d="M456.14 598.65C456.14 606.71 455.72 615.17 454.94 622.84C454.16 630.51 452.95 638.14 451.46 644.66C449.98 651.19 448.09 657.24 446.05 661.98C444 666.72 441.62 670.61 439.22 673.1C436.82 675.6 434.17 676.94 431.65 676.94C429.13 676.94 426.48 675.6 424.08 673.1C421.68 670.61 419.29 666.72 417.25 661.98C415.21 657.24 413.32 651.19 411.84 644.66C410.35 638.14 409.14 630.51 408.36 622.84C407.58 615.17 407.16 606.71 407.16 598.65C407.16 590.59 407.58 582.13 408.36 574.46C409.14 566.79 410.35 559.16 411.84 552.63C413.32 546.11 415.21 540.05 417.25 535.32C419.29 530.58 421.68 526.69 424.08 524.2C426.48 521.7 429.13 520.36 431.65 520.36C434.17 520.36 436.82 521.7 439.22 524.2C441.62 526.69 444 530.58 446.05 535.32C448.09 540.05 449.98 546.11 451.46 552.63C452.95 559.16 454.16 566.79 454.94 574.46C455.72 582.13 456.14 590.59 456.14 598.65Z" fill="#aedcae"/>
<path d="M444.11 601.49C444.11 605.84 443.92 610.4 443.56 614.53C443.2 618.67 442.63 622.78 441.94 626.3C441.25 629.82 440.37 633.08 439.43 635.64C438.48 638.19 437.37 640.29 436.26 641.63C435.14 642.97 433.91 643.7 432.74 643.7C431.57 643.7 430.34 642.97 429.23 641.63C428.12 640.29 427.01 638.19 426.06 635.64C425.11 633.08 424.23 629.82 423.54 626.3C422.85 622.78 422.29 618.67 421.93 614.53C421.57 610.4 421.37 605.84 421.37 601.49C421.37 597.14 421.57 592.58 421.93 588.45C422.29 584.32 422.85 580.2 423.54 576.69C424.23 573.17 425.11 569.9 426.06 567.35C427.01 564.79 428.12 562.7 429.23 561.35C430.34 560.01 431.57 559.29 432.74 559.29C433.91 559.29 435.14 560.01 436.26 561.35C437.37 562.7 438.48 564.79 439.43 567.35C440.37 569.9 441.25 573.17 441.94 576.69C442.63 580.2 443.2 584.32 443.56 588.45C443.92 592.58 444.11 597.14 444.11 601.49Z" fill="#5cb85c"/>
<path d="M408.47 501.78C412.48 501.38 415.39 500.79 421.59 500.68C427.79 500.57 439.08 500.39 445.64 501.12C452.2 501.85 455.85 503.23 460.95 505.06C466.05 506.88 471.52 509.25 476.26 512.05C481 514.86 485.37 518.61 489.38 521.89C493.39 525.17 497.03 528.45 500.31 531.73C503.59 535.02 506.69 538.11 509.06 541.58C511.43 545.04 513.51 548.68 514.53 552.51C515.55 556.34 515.44 560.34 515.18 564.54C514.93 568.73 513.11 573.28 513 577.66C512.89 582.03 513.98 586.4 514.53 590.78C515.07 595.15 516.46 599.52 516.28 603.9C516.09 608.27 515 613.37 513.43 617.02C511.87 620.66 509.42 623.03 506.87 625.77C504.32 628.5 500.68 630.5 498.13 633.42C495.58 636.33 493.21 639.8 491.57 643.26C489.93 646.72 489.93 650.91 488.29 654.19C486.65 657.47 484.46 660.02 481.73 662.94C478.99 665.86 475.35 668.77 471.89 671.69C468.42 674.6 464.96 678.06 460.95 680.43C456.94 682.8 452.57 684.73 447.83 685.9C443.09 687.07 437.63 687.32 432.52 687.43C427.42 687.54 421.95 686.81 417.22 686.56C412.48 686.3 408.11 686.56 404.1 685.9C400.09 685.24 396.81 684.44 393.16 682.62C389.52 680.8 385.87 677.88 382.23 674.97C378.58 672.05 374.76 668.59 371.3 665.13C367.83 661.66 364.55 658.2 361.45 654.19C358.36 650.18 355.08 645.45 352.71 641.07C350.34 636.7 348.59 632.69 347.24 627.95C345.89 623.21 344.91 617.75 344.62 612.64C344.33 607.54 345.6 602.44 345.49 597.34C345.38 592.24 343.96 586.77 343.96 582.03C343.96 577.29 344.76 573.28 345.49 568.91C346.22 564.54 347.31 560.16 348.33 555.79C349.35 551.42 350.78 546.86 351.61 542.67C352.45 538.48 351.72 534.29 353.36 530.64C355 527 358.1 523.9 361.45 520.8C364.81 517.7 369.29 514.46 373.48 512.05C377.67 509.65 382.59 507.86 386.6 506.37C390.61 504.87 393.89 503.85 397.54 503.09C401.18 502.32 404.46 502.18 408.47 501.78Z" fill="none" stroke="#4068ae" stroke-width="2.15" stroke-linejoin="round"/>
<path d="M423.78 519.71C428.15 519.78 434.35 519.71 439.08 520.8C443.82 521.89 447.83 523.72 452.2 526.27C456.58 528.82 461.32 532.46 465.33 536.11C469.33 539.75 473.16 544.13 476.26 548.14C479.36 552.14 482.38 555.61 483.91 560.16C485.44 564.72 485.26 570.37 485.44 575.47C485.63 580.57 484.9 586.4 485.01 590.78C485.12 595.15 486.65 597.7 486.1 601.71C485.55 605.72 483.55 610.46 481.73 614.83C479.9 619.2 477.72 623.94 475.17 627.95C472.61 631.96 469.52 635.61 466.42 638.89C463.32 642.17 460.04 645.08 456.58 647.63C453.12 650.18 449.65 652.55 445.64 654.19C441.64 655.83 436.9 657.11 432.52 657.47C428.15 657.84 423.78 657.47 419.4 656.38C415.03 655.29 410.66 653.28 406.28 650.91C401.91 648.54 397.35 645.63 393.16 642.17C388.97 638.7 384.6 634.33 381.14 630.14C377.67 625.95 374.76 621.76 372.39 617.02C370.02 612.28 368.2 606.81 366.92 601.71C365.65 596.61 364.99 591.51 364.73 586.4C364.48 581.3 364.66 576.2 365.39 571.1C366.12 565.99 367.21 560.53 369.11 555.79C371 551.05 373.66 546.68 376.76 542.67C379.86 538.66 383.87 534.83 387.7 531.73C391.52 528.64 395.53 525.98 399.72 524.08C403.91 522.19 408.83 521.09 412.84 520.36C416.85 519.63 419.4 519.63 423.78 519.71Z" fill="none" stroke="#4068ae" stroke-width="2.15" stroke-linejoin="round"/>
<path d="M425.96 547.48C429.79 547.3 433.62 548.57 436.9 550.32C440.18 552.07 443.09 554.88 445.64 557.98C448.2 561.07 450.67 564.9 452.2 568.91C453.74 572.92 454.65 577.66 454.83 582.03C455.01 586.4 454.28 590.96 453.3 595.15C452.31 599.34 450.93 603.53 448.92 607.18C446.92 610.82 444 614.36 441.27 617.02C438.54 619.68 435.44 621.87 432.52 623.14C429.61 624.42 426.69 624.96 423.78 624.67C420.86 624.38 417.76 623.21 415.03 621.39C412.3 619.57 409.75 616.65 407.38 613.74C405.01 610.82 402.64 607.36 400.82 603.9C398.99 600.44 397.43 596.79 396.44 592.96C395.46 589.14 394.73 584.76 394.91 580.94C395.09 577.11 396.01 573.65 397.54 570C399.07 566.36 401.36 562.17 404.1 559.07C406.83 555.97 410.29 553.35 413.94 551.42C417.58 549.48 422.14 547.66 425.96 547.48Z" fill="none" stroke="#4068ae" stroke-width="2.15" stroke-linejoin="round"/>
<path d="M421.59 499.37L421.59 494.56L422.9 492.81L443.9 492.81L445.21 494.56L445.21 499.37L445.21 499.37C446.3 500.21 449.44 501.56 451.77 504.4C454.1 507.24 457.23 511.51 459.2 516.43C461.17 521.35 462.41 527.73 463.58 533.92C464.74 540.12 465.47 546.68 466.2 553.6C466.93 560.53 467.44 568.18 467.95 575.47C468.46 582.76 469.15 590.05 469.26 597.34C469.37 604.63 469.26 611.92 468.61 619.2C467.95 626.49 466.6 633.78 465.33 641.07C464.05 648.36 462.77 656.02 460.95 662.94C459.13 669.86 456.4 677.52 454.39 682.62C452.39 687.72 449.84 691.73 448.92 693.55L448.92 693.55L448.92 700.55L448.92 700.55C447.47 701.06 443.28 702.96 440.18 703.61C437.08 704.27 433.62 704.49 430.34 704.49C427.06 704.49 423.49 704.27 420.5 703.61C417.51 702.96 413.75 701.06 412.41 700.55L412.41 700.55L412.41 693.55L412.41 693.55C411.09 691 406.54 683.71 404.53 678.25C402.53 672.78 401.47 666.95 400.38 660.75C399.29 654.56 398.67 648 397.97 641.07C397.28 634.15 396.59 626.49 396.22 619.2C395.86 611.92 395.64 604.99 395.79 597.34C395.93 589.68 396.37 580.94 397.1 573.28C397.83 565.63 399.07 558.34 400.16 551.42C401.25 544.49 402.16 537.93 403.66 531.73C405.15 525.54 407.05 518.98 409.13 514.24C411.2 509.5 414.05 505.79 416.12 503.31C418.2 500.83 420.68 500.03 421.59 499.37Z" fill="none" stroke="#5cb85c" stroke-width="2.15" stroke-linejoin="round"/>
<path d="M456.14 598.65C456.14 606.71 455.72 615.17 454.94 622.84C454.16 630.51 452.95 638.14 451.46 644.66C449.98 651.19 448.09 657.24 446.05 661.98C444 666.72 441.62 670.61 439.22 673.1C436.82 675.6 434.17 676.94 431.65 676.94C429.13 676.94 426.48 675.6 424.08 673.1C421.68 670.61 419.29 666.72 417.25 661.98C415.21 657.24 413.32 651.19 411.84 644.66C410.35 638.14 409.14 630.51 408.36 622.84C407.58 615.17 407.16 606.71 407.16 598.65C407.16 590.59 407.58 582.13 408.36 574.46C409.14 566.79 410.35 559.16 411.84 552.63C413.32 546.11 415.21 540.05 417.25 535.32C419.29 530.58 421.68 526.69 424.08 524.2C426.48 521.7 429.13 520.36 431.65 520.36C434.17 520.36 436.82 521.7 439.22 524.2C441.62 526.69 444 530.58 446.05 535.32C448.09 540.05 449.98 546.11 451.46 552.63C452.95 559.16 454.16 566.79 454.94 574.46C455.72 582.13 456.14 590.59 456.14 598.65Z" fill="none" stroke="#5cb85c" stroke-width="2.15" stroke-linejoin="round"/>
<path d="M444.11 601.49C444.11 605.84 443.92 610.4 443.56 614.53C443.2 618.67 442.63 622.78 441.94 626.3C441.25 629.82 440.37 633.08 439.43 635.64C438.48 638.19 437.37 640.29 436.26 641.63C435.14 642.97 433.91 643.7 432.74 643.7C431.57 643.7 430.34 642.97 429.23 641.63C428.12 640.29 427.01 638.19 426.06 635.64C425.11 633.08 424.23 629.82 423.54 626.3C422.85 622.78 422.29 618.67 421.93 614.53C421.57 610.4 421.37 605.84 421.37 601.49C421.37 597.14 421.57 592.58 421.93 588.45C422.29 584.32 422.85 580.2 423.54 576.69C424.23 573.17 425.11 569.9 426.06 567.35C427.01 564.79 428.12 562.7 429.23 561.35C430.34 560.01 431.57 559.29 432.74 559.29C433.91 559.29 435.14 560.01 436.26 561.35C437.37 562.7 438.48 564.79 439.43 567.35C440.37 569.9 441.25 573.17 441.94 576.69C442.63 580.2 443.2 584.32 443.56 588.45C443.92 592.58 444.11 597.14 444.11 601.49Z" fill="none" stroke="#5cb85c" stroke-width="2.15" stroke-linejoin="round"/>
</g>
<path d="M429.7 488.54V706.33M321 574.1H538.5" stroke="#ff7f0e" stroke-width="2.25" fill="none"/>
<rect x="424.5" y="568.9" width="10.4" height="10.4" fill="#ff7f0e"/>
<g clip-path="url(#cp30)">
<circle cx="132.45" cy="854.33" r="1.3" fill="#c3d3ea"/>
<circle cx="210.74" cy="909.43" r="1.3" fill="#c3d3ea"/>
<path d="M186.03 731.87C190.04 732.05 196.6 732.78 201.34 733.4C206.08 734.02 209.72 734.86 214.46 735.59C219.2 736.32 224.66 737.23 229.77 737.77C234.87 738.32 239.97 738.32 245.07 738.87C250.17 739.41 256.01 739.6 260.38 741.05C264.75 742.51 268.4 744.7 271.31 747.61C274.23 750.53 276.42 754.54 277.87 758.55C279.33 762.56 279.4 766.93 280.06 771.67C280.72 776.41 281.45 781.51 281.81 786.98C282.17 792.44 282.25 799 282.25 804.47C282.25 809.94 282.25 814.67 281.81 819.78C281.37 824.88 281.01 830.71 279.62 835.08C278.24 839.46 275.07 842.01 273.5 846.02C271.93 850.03 271.31 854.77 270.22 859.14C269.13 863.51 268.58 868.61 266.94 872.26C265.3 875.9 263.3 878.82 260.38 881.01C257.46 883.19 253.09 883.92 249.45 885.38C245.8 886.84 241.79 887.93 238.51 889.75C235.23 891.58 233.05 894.13 229.77 896.31C226.49 898.5 222.84 901.23 218.83 902.87C214.82 904.51 210.08 905.61 205.71 906.15C201.34 906.7 196.96 906.7 192.59 906.15C188.22 905.61 183.84 904.33 179.47 902.87C175.1 901.42 170.36 899.41 166.35 897.41C162.34 895.4 158.33 893.58 155.42 890.85C152.5 888.11 150.5 884.83 148.86 881.01C147.22 877.18 146.85 871.89 145.58 867.89C144.3 863.88 143.02 860.6 141.2 856.95C139.38 853.31 136.65 850.03 134.64 846.02C132.64 842.01 130.63 837.27 129.17 832.9C127.72 828.52 126.55 824.15 125.89 819.78C125.24 815.4 124.69 810.67 125.24 806.66C125.79 802.65 127.43 799.37 129.17 795.72C130.92 792.08 134.09 788.43 135.73 784.79C137.38 781.14 138.47 777.86 139.02 773.86C139.56 769.85 138.29 764.74 139.02 760.73C139.74 756.73 141.02 753.08 143.39 749.8C145.76 746.52 149.4 743.53 153.23 741.05C157.06 738.58 162.34 736.39 166.35 734.93C170.36 733.47 174 732.82 177.28 732.31C180.56 731.8 182.02 731.69 186.03 731.87Z" fill="#d2dbec"/>
<path d="M196.96 756.8C200.61 756.54 205.71 755.45 210.08 755.92C214.46 756.4 218.83 758.29 223.2 759.64C227.58 760.99 232.32 762.38 236.33 764.02C240.33 765.66 244.34 767.11 247.26 769.48C250.17 771.85 252.29 774.58 253.82 778.23C255.35 781.87 255.79 786.61 256.44 791.35C257.1 796.09 257.65 801.55 257.76 806.66C257.86 811.76 257.76 817.23 257.1 821.96C256.44 826.7 255.28 831.08 253.82 835.08C252.36 839.09 250.17 842.37 248.35 846.02C246.53 849.66 245.25 853.67 242.89 856.95C240.52 860.23 237.42 863.15 234.14 865.7C230.86 868.25 226.85 870.25 223.2 872.26C219.56 874.26 216.28 876.34 212.27 877.73C208.26 879.11 203.52 880.39 199.15 880.57C194.78 880.75 190.04 880.2 186.03 878.82C182.02 877.43 178.38 875.17 175.1 872.26C171.82 869.34 168.72 865.33 166.35 861.33C163.98 857.32 162.52 852.58 160.88 848.2C159.24 843.83 157.49 839.82 156.51 835.08C155.53 830.35 154.8 824.88 154.98 819.78C155.16 814.67 156.8 809.57 157.6 804.47C158.4 799.37 158.7 793.9 159.79 789.16C160.88 784.42 162.34 779.69 164.16 776.04C165.98 772.4 168.17 769.85 170.72 767.3C173.27 764.74 176.55 762.38 179.47 760.73C182.39 759.09 185.3 758.11 188.22 757.45C191.13 756.8 193.32 757.05 196.96 756.8Z" fill="#a5b8d9"/>
<path d="M201.34 783.7C203.71 783.33 207.17 783.7 210.08 784.79C213 785.88 216.1 787.89 218.83 790.26C221.56 792.63 224.48 795.91 226.49 799C228.49 802.1 229.87 805.38 230.86 808.84C231.84 812.31 232.57 816.13 232.39 819.78C232.21 823.42 230.93 827.43 229.77 830.71C228.6 833.99 227.21 836.91 225.39 839.46C223.57 842.01 221.2 844.27 218.83 846.02C216.46 847.77 213.91 849.23 211.18 849.95C208.44 850.68 205.16 850.87 202.43 850.39C199.7 849.92 197.15 848.93 194.78 847.11C192.41 845.29 189.86 842.37 188.22 839.46C186.58 836.54 185.67 833.08 184.94 829.62C184.21 826.16 183.66 822.51 183.84 818.68C184.03 814.86 184.94 810.48 186.03 806.66C187.12 802.83 188.76 799 190.4 795.72C192.04 792.44 194.05 788.98 195.87 786.98C197.69 784.97 198.97 784.06 201.34 783.7Z" fill="#4068ae"/>
<path d="M195.43 728.37L195.43 723.56L196.75 721.81L212.49 721.81L213.8 723.56L213.8 728.37L213.8 728.37C214.71 728.84 217.01 729.1 219.27 731.21C221.53 733.33 224.95 736.86 227.36 741.05C229.77 745.25 232.02 750.89 233.7 756.36C235.38 761.83 236.43 767.66 237.42 773.86C238.4 780.05 239.35 786.61 239.61 793.54C239.86 800.46 239.42 808.11 238.95 815.4C238.48 822.69 237.82 830.35 236.76 837.27C235.71 844.2 234.5 850.68 232.61 856.95C230.71 863.22 228.02 869.6 225.39 874.88C222.77 880.17 219.85 884.98 216.86 888.66C213.87 892.34 210.92 895.26 207.46 896.97C204 898.68 200.03 899.34 196.09 898.94C192.15 898.54 187.31 896.82 183.84 894.56C180.38 892.3 177.65 889.28 175.32 885.38C172.98 881.48 171.12 876.63 169.85 871.17C168.57 865.7 168.17 858.96 167.66 852.58C167.15 846.2 166.82 839.82 166.79 832.9C166.75 825.97 167.01 818.32 167.44 811.03C167.88 803.74 168.43 796.45 169.41 789.16C170.39 781.87 171.82 773.86 173.35 767.3C174.88 760.73 176.59 754.72 178.6 749.8C180.6 744.88 182.57 741.35 185.37 737.77C188.18 734.2 193.76 729.94 195.43 728.37Z" fill="#d6edd6"/>
<path d="M227.13 813.4C226.96 819.93 226.37 826.77 225.45 832.96C224.52 839.15 223.16 845.3 221.57 850.55C219.98 855.79 217.99 860.65 215.89 864.43C213.78 868.22 211.36 871.31 208.95 873.26C206.54 875.22 203.92 876.24 201.44 876.17C198.96 876.11 196.39 874.96 194.09 872.88C191.79 870.8 189.52 867.59 187.62 863.7C185.72 859.81 183.98 854.86 182.66 849.54C181.35 844.22 180.31 838.01 179.71 831.77C179.1 825.54 178.87 818.68 179.04 812.15C179.21 805.62 179.8 798.79 180.73 792.59C181.65 786.4 183.01 780.26 184.6 775.01C186.2 769.77 188.18 764.91 190.29 761.12C192.39 757.34 194.82 754.25 197.22 752.29C199.63 750.34 202.26 749.32 204.74 749.39C207.21 749.45 209.78 750.6 212.09 752.68C214.39 754.76 216.65 757.97 218.55 761.86C220.46 765.75 222.19 770.7 223.51 776.02C224.83 781.34 225.86 787.55 226.47 793.78C227.07 800.01 227.3 806.87 227.13 813.4Z" fill="#aedcae"/>
<path d="M204.4 778.23C206.08 778.59 208.08 780.85 209.43 783.48C210.78 786.1 211.8 789.75 212.49 793.97C213.18 798.2 213.58 804.25 213.58 808.84C213.58 813.44 213.18 817.26 212.49 821.53C211.8 825.79 210.92 830.97 209.43 834.43C207.93 837.89 205.53 841.61 203.52 842.3C201.52 842.99 199 841.32 197.4 838.58C195.8 835.85 194.85 830.49 193.9 825.9C192.95 821.31 191.97 815.62 191.72 811.03C191.46 806.44 191.75 802.25 192.37 798.35C192.99 794.45 194.27 790.47 195.43 787.63C196.6 784.79 197.88 782.86 199.37 781.29C200.86 779.72 202.72 777.86 204.4 778.23Z" fill="#5cb85c"/>
<path d="M186.03 731.87C190.04 732.05 196.6 732.78 201.34 733.4C206.08 734.02 209.72 734.86 214.46 735.59C219.2 736.32 224.66 737.23 229.77 737.77C234.87 738.32 239.97 738.32 245.07 738.87C250.17 739.41 256.01 739.6 260.38 741.05C264.75 742.51 268.4 744.7 271.31 747.61C274.23 750.53 276.42 754.54 277.87 758.55C279.33 762.56 279.4 766.93 280.06 771.67C280.72 776.41 281.45 781.51 281.81 786.98C282.17 792.44 282.25 799 282.25 804.47C282.25 809.94 282.25 814.67 281.81 819.78C281.37 824.88 281.01 830.71 279.62 835.08C278.24 839.46 275.07 842.01 273.5 846.02C271.93 850.03 271.31 854.77 270.22 859.14C269.13 863.51 268.58 868.61 266.94 872.26C265.3 875.9 263.3 878.82 260.38 881.01C257.46 883.19 253.09 883.92 249.45 885.38C245.8 886.84 241.79 887.93 238.51 889.75C235.23 891.58 233.05 894.13 229.77 896.31C226.49 898.5 222.84 901.23 218.83 902.87C214.82 904.51 210.08 905.61 205.71 906.15C201.34 906.7 196.96 906.7 192.59 906.15C188.22 905.61 183.84 904.33 179.47 902.87C175.1 901.42 170.36 899.41 166.35 897.41C162.34 895.4 158.33 893.58 155.42 890.85C152.5 888.11 150.5 884.83 148.86 881.01C147.22 877.18 146.85 871.89 145.58 867.89C144.3 863.88 143.02 860.6 141.2 856.95C139.38 853.31 136.65 850.03 134.64 846.02C132.64 842.01 130.63 837.27 129.17 832.9C127.72 828.52 126.55 824.15 125.89 819.78C125.24 815.4 124.69 810.67 125.24 806.66C125.79 802.65 127.43 799.37 129.17 795.72C130.92 792.08 134.09 788.43 135.73 784.79C137.38 781.14 138.47 777.86 139.02 773.86C139.56 769.85 138.29 764.74 139.02 760.73C139.74 756.73 141.02 753.08 143.39 749.8C145.76 746.52 149.4 743.53 153.23 741.05C157.06 738.58 162.34 736.39 166.35 734.93C170.36 733.47 174 732.82 177.28 732.31C180.56 731.8 182.02 731.69 186.03 731.87Z" fill="none" stroke="#4068ae" stroke-width="2.15" stroke-linejoin="round"/>
<path d="M196.96 756.8C200.61 756.54 205.71 755.45 210.08 755.92C214.46 756.4 218.83 758.29 223.2 759.64C227.58 760.99 232.32 762.38 236.33 764.02C240.33 765.66 244.34 767.11 247.26 769.48C250.17 771.85 252.29 774.58 253.82 778.23C255.35 781.87 255.79 786.61 256.44 791.35C257.1 796.09 257.65 801.55 257.76 806.66C257.86 811.76 257.76 817.23 257.1 821.96C256.44 826.7 255.28 831.08 253.82 835.08C252.36 839.09 250.17 842.37 248.35 846.02C246.53 849.66 245.25 853.67 242.89 856.95C240.52 860.23 237.42 863.15 234.14 865.7C230.86 868.25 226.85 870.25 223.2 872.26C219.56 874.26 216.28 876.34 212.27 877.73C208.26 879.11 203.52 880.39 199.15 880.57C194.78 880.75 190.04 880.2 186.03 878.82C182.02 877.43 178.38 875.17 175.1 872.26C171.82 869.34 168.72 865.33 166.35 861.33C163.98 857.32 162.52 852.58 160.88 848.2C159.24 843.83 157.49 839.82 156.51 835.08C155.53 830.35 154.8 824.88 154.98 819.78C155.16 814.67 156.8 809.57 157.6 804.47C158.4 799.37 158.7 793.9 159.79 789.16C160.88 784.42 162.34 779.69 164.16 776.04C165.98 772.4 168.17 769.85 170.72 767.3C173.27 764.74 176.55 762.38 179.47 760.73C182.39 759.09 185.3 758.11 188.22 757.45C191.13 756.8 193.32 757.05 196.96 756.8Z" fill="none" stroke="#4068ae" stroke-width="2.15" stroke-linejoin="round"/>
<path d="M201.34 783.7C203.71 783.33 207.17 783.7 210.08 784.79C213 785.88 216.1 787.89 218.83 790.26C221.56 792.63 224.48 795.91 226.49 799C228.49 802.1 229.87 805.38 230.86 808.84C231.84 812.31 232.57 816.13 232.39 819.78C232.21 823.42 230.93 827.43 229.77 830.71C228.6 833.99 227.21 836.91 225.39 839.46C223.57 842.01 221.2 844.27 218.83 846.02C216.46 847.77 213.91 849.23 211.18 849.95C208.44 850.68 205.16 850.87 202.43 850.39C199.7 849.92 197.15 848.93 194.78 847.11C192.41 845.29 189.86 842.37 188.22 839.46C186.58 836.54 185.67 833.08 184.94 829.62C184.21 826.16 183.66 822.51 183.84 818.68C184.03 814.86 184.94 810.48 186.03 806.66C187.12 802.83 188.76 799 190.4 795.72C192.04 792.44 194.05 788.98 195.87 786.98C197.69 784.97 198.97 784.06 201.34 783.7Z" fill="none" stroke="#4068ae" stroke-width="2.15" stroke-linejoin="round"/>
<path d="M195.43 728.37L195.43 723.56L196.75 721.81L212.49 721.81L213.8 723.56L213.8 728.37L213.8 728.37C214.71 728.84 217.01 729.1 219.27 731.21C221.53 733.33 224.95 736.86 227.36 741.05C229.77 745.25 232.02 750.89 233.7 756.36C235.38 761.83 236.43 767.66 237.42 773.86C238.4 780.05 239.35 786.61 239.61 793.54C239.86 800.46 239.42 808.11 238.95 815.4C238.48 822.69 237.82 830.35 236.76 837.27C235.71 844.2 234.5 850.68 232.61 856.95C230.71 863.22 228.02 869.6 225.39 874.88C222.77 880.17 219.85 884.98 216.86 888.66C213.87 892.34 210.92 895.26 207.46 896.97C204 898.68 200.03 899.34 196.09 898.94C192.15 898.54 187.31 896.82 183.84 894.56C180.38 892.3 177.65 889.28 175.32 885.38C172.98 881.48 171.12 876.63 169.85 871.17C168.57 865.7 168.17 858.96 167.66 852.58C167.15 846.2 166.82 839.82 166.79 832.9C166.75 825.97 167.01 818.32 167.44 811.03C167.88 803.74 168.43 796.45 169.41 789.16C170.39 781.87 171.82 773.86 173.35 767.3C174.88 760.73 176.59 754.72 178.6 749.8C180.6 744.88 182.57 741.35 185.37 737.77C188.18 734.2 193.76 729.94 195.43 728.37Z" fill="none" stroke="#5cb85c" stroke-width="2.15" stroke-linejoin="round"/>
<path d="M227.13 813.4C226.96 819.93 226.37 826.77 225.45 832.96C224.52 839.15 223.16 845.3 221.57 850.55C219.98 855.79 217.99 860.65 215.89 864.43C213.78 868.22 211.36 871.31 208.95 873.26C206.54 875.22 203.92 876.24 201.44 876.17C198.96 876.11 196.39 874.96 194.09 872.88C191.79 870.8 189.52 867.59 187.62 863.7C185.72 859.81 183.98 854.86 182.66 849.54C181.35 844.22 180.31 838.01 179.71 831.77C179.1 825.54 178.87 818.68 179.04 812.15C179.21 805.62 179.8 798.79 180.73 792.59C181.65 786.4 183.01 780.26 184.6 775.01C186.2 769.77 188.18 764.91 190.29 761.12C192.39 757.34 194.82 754.25 197.22 752.29C199.63 750.34 202.26 749.32 204.74 749.39C207.21 749.45 209.78 750.6 212.09 752.68C214.39 754.76 216.65 757.97 218.55 761.86C220.46 765.75 222.19 770.7 223.51 776.02C224.83 781.34 225.86 787.55 226.47 793.78C227.07 800.01 227.3 806.87 227.13 813.4Z" fill="none" stroke="#5cb85c" stroke-width="2.15" stroke-linejoin="round"/>
<path d="M204.4 778.23C206.08 778.59 208.08 780.85 209.43 783.48C210.78 786.1 211.8 789.75 212.49 793.97C213.18 798.2 213.58 804.25 213.58 808.84C213.58 813.44 213.18 817.26 212.49 821.53C211.8 825.79 210.92 830.97 209.43 834.43C207.93 837.89 205.53 841.61 203.52 842.3C201.52 842.99 199 841.32 197.4 838.58C195.8 835.85 194.85 830.49 193.9 825.9C192.95 821.31 191.97 815.62 191.72 811.03C191.46 806.44 191.75 802.25 192.37 798.35C192.99 794.45 194.27 790.47 195.43 787.63C196.6 784.79 197.88 782.86 199.37 781.29C200.86 779.72 202.72 777.86 204.4 778.23Z" fill="none" stroke="#5cb85c" stroke-width="2.15" stroke-linejoin="round"/>
</g>
<path d="M200.9 717.55V934.5M92.6 833.8H310" stroke="#ff7f0e" stroke-width="2.25" fill="none"/>
<rect x="195.7" y="828.6" width="10.4" height="10.4" fill="#ff7f0e"/>
<g clip-path="url(#cp31)">
<circle cx="440.83" cy="909.43" r="1.3" fill="#c3d3ea"/>
<path d="M393.16 738.65C398.27 737.74 403.37 736.94 408.47 736.68C413.57 736.43 418.67 737.23 423.78 737.12C428.88 737.01 433.98 736.46 439.08 736.02C444.19 735.59 449.29 734.82 454.39 734.49C459.49 734.17 464.96 733.77 469.7 734.06C474.44 734.35 478.81 734.89 482.82 736.24C486.83 737.59 490.84 739.71 493.75 742.15C496.67 744.59 497.4 748.16 500.31 750.89C503.23 753.63 508.33 756 511.25 758.55C514.16 761.1 516.53 763.65 517.81 766.2C519.08 768.75 519.27 771.12 518.9 773.86C518.54 776.59 516.9 779.69 515.62 782.6C514.34 785.52 512.16 788.07 511.25 791.35C510.34 794.63 509.97 798.64 510.15 802.28C510.34 805.93 511.61 809.57 512.34 813.22C513.07 816.86 514.27 820.87 514.53 824.15C514.78 827.43 514.78 829.62 513.87 832.9C512.96 836.18 510.77 839.82 509.06 843.83C507.35 847.84 505.42 852.58 503.59 856.95C501.77 861.33 500.31 866.06 498.13 870.07C495.94 874.08 493.39 877.73 490.47 881.01C487.56 884.29 484.09 886.84 480.63 889.75C477.17 892.67 473.34 896.31 469.7 898.5C466.05 900.69 462.41 901.85 458.77 902.87C455.12 903.89 451.48 904.81 447.83 904.62C444.19 904.44 440.18 902.8 436.9 901.78C433.62 900.76 431.43 898.86 428.15 898.5C424.87 898.14 420.86 899.23 417.22 899.59C413.57 899.96 409.93 900.69 406.28 900.69C402.64 900.69 398.99 900.69 395.35 899.59C391.7 898.5 388.06 896.31 384.42 894.13C380.77 891.94 376.94 889.21 373.48 886.47C370.02 883.74 366.56 880.82 363.64 877.73C360.73 874.63 357.81 871.71 355.99 867.89C354.17 864.06 353.98 859.14 352.71 854.77C351.43 850.39 349.68 846.02 348.33 841.64C346.99 837.27 345.46 833.26 344.62 828.52C343.78 823.79 343.41 818.32 343.3 813.22C343.2 808.11 343.74 803.01 343.96 797.91C344.18 792.81 343.89 787.7 344.62 782.6C345.35 777.5 346.8 771.74 348.33 767.3C349.87 762.85 351.07 759.2 353.8 755.92C356.53 752.64 360.73 749.91 364.73 747.61C368.74 745.32 373.12 743.64 377.86 742.15C382.59 740.65 388.06 739.56 393.16 738.65Z" fill="#d2dbec"/>
<path d="M393.16 761.83C397.9 760.37 403.37 759.28 408.47 758.55C413.57 757.82 418.67 757.71 423.78 757.45C428.88 757.2 434.35 756.84 439.08 757.02C443.82 757.2 448.2 757.38 452.2 758.55C456.21 759.71 459.86 761.46 463.14 764.02C466.42 766.57 469.33 770.39 471.89 773.86C474.44 777.32 476.44 780.78 478.45 784.79C480.45 788.8 482.45 793.54 483.91 797.91C485.37 802.28 486.94 806.66 487.19 811.03C487.45 815.4 486.35 819.78 485.44 824.15C484.53 828.52 483.26 832.9 481.73 837.27C480.2 841.64 478.63 846.38 476.26 850.39C473.89 854.4 470.79 857.68 467.51 861.33C464.23 864.97 460.22 869.34 456.58 872.26C452.93 875.17 449.29 877.43 445.64 878.82C442 880.2 438.72 880.57 434.71 880.57C430.7 880.57 425.96 879.66 421.59 878.82C417.22 877.98 412.84 876.81 408.47 875.54C404.1 874.26 399.36 873.17 395.35 871.17C391.34 869.16 387.7 866.61 384.42 863.51C381.14 860.41 378.04 856.59 375.67 852.58C373.3 848.57 371.84 843.83 370.2 839.46C368.56 835.08 366.74 830.71 365.83 826.34C364.92 821.96 364.55 817.59 364.73 813.22C364.92 808.84 366.19 804.47 366.92 800.1C367.65 795.72 368.2 790.98 369.11 786.98C370.02 782.97 370.57 779.32 372.39 776.04C374.21 772.76 376.58 769.66 380.04 767.3C383.5 764.93 388.42 763.29 393.16 761.83Z" fill="#a5b8d9"/>
<path d="M425.96 782.17C429.24 782.42 433.62 783.08 436.9 784.79C440.18 786.5 443.28 789.53 445.64 792.44C448.01 795.36 449.73 798.82 451.11 802.28C452.5 805.75 453.59 809.57 453.95 813.22C454.32 816.86 454.14 820.51 453.3 824.15C452.46 827.8 450.75 831.62 448.92 835.08C447.1 838.55 444.92 842.3 442.36 844.92C439.81 847.55 436.72 849.74 433.62 850.83C430.52 851.92 427.06 851.92 423.78 851.49C420.5 851.05 417.03 850.03 413.94 848.2C410.84 846.38 407.56 843.47 405.19 840.55C402.82 837.64 401.18 834.17 399.72 830.71C398.27 827.25 396.99 823.42 396.44 819.78C395.9 816.13 395.71 812.49 396.44 808.84C397.17 805.2 398.81 801.37 400.82 797.91C402.82 794.45 405.74 790.51 408.47 788.07C411.2 785.63 414.3 784.24 417.22 783.26C420.13 782.27 422.68 781.91 425.96 782.17Z" fill="#4068ae"/>
<path d="M420.72 728.37L420.72 723.56L422.03 721.81L440.4 721.81L441.71 723.56L441.71 728.37L441.71 728.37C443.09 729.39 447.18 731.29 450.02 734.49C452.86 737.7 456.21 742.51 458.77 747.61C461.32 752.72 463.69 758.91 465.33 765.11C466.97 771.3 467.77 777.86 468.61 784.79C469.44 791.71 470.17 799.37 470.35 806.66C470.54 813.95 470.25 821.24 469.7 828.52C469.15 835.81 468.35 843.47 467.07 850.39C465.8 857.32 464.16 864.24 462.05 870.07C459.93 875.9 457.49 881.01 454.39 885.38C451.29 889.75 447.1 894.05 443.46 896.31C439.81 898.57 436.17 898.94 432.52 898.94C428.88 898.94 425.24 898.21 421.59 896.31C417.95 894.42 413.75 891.21 410.66 887.57C407.56 883.92 405.12 879.55 403 874.45C400.89 869.34 399.25 863.51 397.97 856.95C396.7 850.39 395.86 842.37 395.35 835.08C394.84 827.8 394.84 820.51 394.91 813.22C394.98 805.93 395.24 798.64 395.79 791.35C396.33 784.06 397.03 776.41 398.19 769.48C399.36 762.56 400.63 755.45 402.78 749.8C404.93 744.15 408.11 739.16 411.09 735.59C414.08 732.02 419.11 729.57 420.72 728.37Z" fill="#d6edd6"/>
<path d="M457.67 812.78C457.67 819.31 457.24 826.16 456.43 832.38C455.62 838.59 454.36 844.77 452.83 850.05C451.29 855.34 449.33 860.24 447.22 864.08C445.1 867.92 442.63 871.07 440.14 873.09C437.66 875.11 434.92 876.2 432.31 876.2C429.69 876.2 426.95 875.11 424.47 873.09C421.98 871.07 419.51 867.92 417.4 864.08C415.28 860.24 413.32 855.34 411.78 850.05C410.25 844.77 408.99 838.59 408.18 832.38C407.37 826.16 406.94 819.31 406.94 812.78C406.94 806.25 407.37 799.4 408.18 793.18C408.99 786.97 410.25 780.79 411.78 775.5C413.32 770.22 415.28 765.31 417.4 761.48C419.51 757.64 421.98 754.49 424.47 752.47C426.95 750.45 429.69 749.36 432.31 749.36C434.92 749.36 437.66 750.45 440.14 752.47C442.63 754.49 445.1 757.64 447.22 761.48C449.33 765.31 451.29 770.22 452.83 775.5C454.36 780.79 455.62 786.97 456.43 793.18C457.24 799.4 457.67 806.25 457.67 812.78Z" fill="#aedcae"/>
<path d="M444.33 809.94C444.33 813.29 444.14 816.81 443.78 820.01C443.41 823.2 442.85 826.37 442.16 829.09C441.47 831.8 440.59 834.32 439.65 836.3C438.7 838.27 437.59 839.89 436.48 840.92C435.36 841.96 434.13 842.52 432.96 842.52C431.79 842.52 430.56 841.96 429.45 840.92C428.33 839.89 427.23 838.27 426.28 836.3C425.33 834.32 424.45 831.8 423.76 829.09C423.07 826.37 422.51 823.2 422.15 820.01C421.79 816.81 421.59 813.29 421.59 809.94C421.59 806.58 421.79 803.06 422.15 799.87C422.51 796.68 423.07 793.5 423.76 790.79C424.45 788.07 425.33 785.55 426.28 783.58C427.23 781.6 428.33 779.99 429.45 778.95C430.56 777.91 431.79 777.35 432.96 777.35C434.13 777.35 435.36 777.91 436.48 778.95C437.59 779.99 438.7 781.6 439.65 783.58C440.59 785.55 441.47 788.07 442.16 790.79C442.85 793.5 443.41 796.68 443.78 799.87C444.14 803.06 444.33 806.58 444.33 809.94Z" fill="#5cb85c"/>
<path d="M393.16 738.65C398.27 737.74 403.37 736.94 408.47 736.68C413.57 736.43 418.67 737.23 423.78 737.12C428.88 737.01 433.98 736.46 439.08 736.02C444.19 735.59 449.29 734.82 454.39 734.49C459.49 734.17 464.96 733.77 469.7 734.06C474.44 734.35 478.81 734.89 482.82 736.24C486.83 737.59 490.84 739.71 493.75 742.15C496.67 744.59 497.4 748.16 500.31 750.89C503.23 753.63 508.33 756 511.25 758.55C514.16 761.1 516.53 763.65 517.81 766.2C519.08 768.75 519.27 771.12 518.9 773.86C518.54 776.59 516.9 779.69 515.62 782.6C514.34 785.52 512.16 788.07 511.25 791.35C510.34 794.63 509.97 798.64 510.15 802.28C510.34 805.93 511.61 809.57 512.34 813.22C513.07 816.86 514.27 820.87 514.53 824.15C514.78 827.43 514.78 829.62 513.87 832.9C512.96 836.18 510.77 839.82 509.06 843.83C507.35 847.84 505.42 852.58 503.59 856.95C501.77 861.33 500.31 866.06 498.13 870.07C495.94 874.08 493.39 877.73 490.47 881.01C487.56 884.29 484.09 886.84 480.63 889.75C477.17 892.67 473.34 896.31 469.7 898.5C466.05 900.69 462.41 901.85 458.77 902.87C455.12 903.89 451.48 904.81 447.83 904.62C444.19 904.44 440.18 902.8 436.9 901.78C433.62 900.76 431.43 898.86 428.15 898.5C424.87 898.14 420.86 899.23 417.22 899.59C413.57 899.96 409.93 900.69 406.28 900.69C402.64 900.69 398.99 900.69 395.35 899.59C391.7 898.5 388.06 896.31 384.42 894.13C380.77 891.94 376.94 889.21 373.48 886.47C370.02 883.74 366.56 880.82 363.64 877.73C360.73 874.63 357.81 871.71 355.99 867.89C354.17 864.06 353.98 859.14 352.71 854.77C351.43 850.39 349.68 846.02 348.33 841.64C346.99 837.27 345.46 833.26 344.62 828.52C343.78 823.79 343.41 818.32 343.3 813.22C343.2 808.11 343.74 803.01 343.96 797.91C344.18 792.81 343.89 787.7 344.62 782.6C345.35 777.5 346.8 771.74 348.33 767.3C349.87 762.85 351.07 759.2 353.8 755.92C356.53 752.64 360.73 749.91 364.73 747.61C368.74 745.32 373.12 743.64 377.86 742.15C382.59 740.65 388.06 739.56 393.16 738.65Z" fill="none" stroke="#4068ae" stroke-width="2.15" stroke-linejoin="round"/>
<path d="M393.16 761.83C397.9 760.37 403.37 759.28 408.47 758.55C413.57 757.82 418.67 757.71 423.78 757.45C428.88 757.2 434.35 756.84 439.08 757.02C443.82 757.2 448.2 757.38 452.2 758.55C456.21 759.71 459.86 761.46 463.14 764.02C466.42 766.57 469.33 770.39 471.89 773.86C474.44 777.32 476.44 780.78 478.45 784.79C480.45 788.8 482.45 793.54 483.91 797.91C485.37 802.28 486.94 806.66 487.19 811.03C487.45 815.4 486.35 819.78 485.44 824.15C484.53 828.52 483.26 832.9 481.73 837.27C480.2 841.64 478.63 846.38 476.26 850.39C473.89 854.4 470.79 857.68 467.51 861.33C464.23 864.97 460.22 869.34 456.58 872.26C452.93 875.17 449.29 877.43 445.64 878.82C442 880.2 438.72 880.57 434.71 880.57C430.7 880.57 425.96 879.66 421.59 878.82C417.22 877.98 412.84 876.81 408.47 875.54C404.1 874.26 399.36 873.17 395.35 871.17C391.34 869.16 387.7 866.61 384.42 863.51C381.14 860.41 378.04 856.59 375.67 852.58C373.3 848.57 371.84 843.83 370.2 839.46C368.56 835.08 366.74 830.71 365.83 826.34C364.92 821.96 364.55 817.59 364.73 813.22C364.92 808.84 366.19 804.47 366.92 800.1C367.65 795.72 368.2 790.98 369.11 786.98C370.02 782.97 370.57 779.32 372.39 776.04C374.21 772.76 376.58 769.66 380.04 767.3C383.5 764.93 388.42 763.29 393.16 761.83Z" fill="none" stroke="#4068ae" stroke-width="2.15" stroke-linejoin="round"/>
<path d="M425.96 782.17C429.24 782.42 433.62 783.08 436.9 784.79C440.18 786.5 443.28 789.53 445.64 792.44C448.01 795.36 449.73 798.82 451.11 802.28C452.5 805.75 453.59 809.57 453.95 813.22C454.32 816.86 454.14 820.51 453.3 824.15C452.46 827.8 450.75 831.62 448.92 835.08C447.1 838.55 444.92 842.3 442.36 844.92C439.81 847.55 436.72 849.74 433.62 850.83C430.52 851.92 427.06 851.92 423.78 851.49C420.5 851.05 417.03 850.03 413.94 848.2C410.84 846.38 407.56 843.47 405.19 840.55C402.82 837.64 401.18 834.17 399.72 830.71C398.27 827.25 396.99 823.42 396.44 819.78C395.9 816.13 395.71 812.49 396.44 808.84C397.17 805.2 398.81 801.37 400.82 797.91C402.82 794.45 405.74 790.51 408.47 788.07C411.2 785.63 414.3 784.24 417.22 783.26C420.13 782.27 422.68 781.91 425.96 782.17Z" fill="none" stroke="#4068ae" stroke-width="2.15" stroke-linejoin="round"/>
<path d="M420.72 728.37L420.72 723.56L422.03 721.81L440.4 721.81L441.71 723.56L441.71 728.37L441.71 728.37C443.09 729.39 447.18 731.29 450.02 734.49C452.86 737.7 456.21 742.51 458.77 747.61C461.32 752.72 463.69 758.91 465.33 765.11C466.97 771.3 467.77 777.86 468.61 784.79C469.44 791.71 470.17 799.37 470.35 806.66C470.54 813.95 470.25 821.24 469.7 828.52C469.15 835.81 468.35 843.47 467.07 850.39C465.8 857.32 464.16 864.24 462.05 870.07C459.93 875.9 457.49 881.01 454.39 885.38C451.29 889.75 447.1 894.05 443.46 896.31C439.81 898.57 436.17 898.94 432.52 898.94C428.88 898.94 425.24 898.21 421.59 896.31C417.95 894.42 413.75 891.21 410.66 887.57C407.56 883.92 405.12 879.55 403 874.45C400.89 869.34 399.25 863.51 397.97 856.95C396.7 850.39 395.86 842.37 395.35 835.08C394.84 827.8 394.84 820.51 394.91 813.22C394.98 805.93 395.24 798.64 395.79 791.35C396.33 784.06 397.03 776.41 398.19 769.48C399.36 762.56 400.63 755.45 402.78 749.8C404.93 744.15 408.11 739.16 411.09 735.59C414.08 732.02 419.11 729.57 420.72 728.37Z" fill="none" stroke="#5cb85c" stroke-width="2.15" stroke-linejoin="round"/>
<path d="M457.67 812.78C457.67 819.31 457.24 826.16 456.43 832.38C455.62 838.59 454.36 844.77 452.83 850.05C451.29 855.34 449.33 860.24 447.22 864.08C445.1 867.92 442.63 871.07 440.14 873.09C437.66 875.11 434.92 876.2 432.31 876.2C429.69 876.2 426.95 875.11 424.47 873.09C421.98 871.07 419.51 867.92 417.4 864.08C415.28 860.24 413.32 855.34 411.78 850.05C410.25 844.77 408.99 838.59 408.18 832.38C407.37 826.16 406.94 819.31 406.94 812.78C406.94 806.25 407.37 799.4 408.18 793.18C408.99 786.97 410.25 780.79 411.78 775.5C413.32 770.22 415.28 765.31 417.4 761.48C419.51 757.64 421.98 754.49 424.47 752.47C426.95 750.45 429.69 749.36 432.31 749.36C434.92 749.36 437.66 750.45 440.14 752.47C442.63 754.49 445.1 757.64 447.22 761.48C449.33 765.31 451.29 770.22 452.83 775.5C454.36 780.79 455.62 786.97 456.43 793.18C457.24 799.4 457.67 806.25 457.67 812.78Z" fill="none" stroke="#5cb85c" stroke-width="2.15" stroke-linejoin="round"/>
<path d="M444.33 809.94C444.33 813.29 444.14 816.81 443.78 820.01C443.41 823.2 442.85 826.37 442.16 829.09C441.47 831.8 440.59 834.32 439.65 836.3C438.7 838.27 437.59 839.89 436.48 840.92C435.36 841.96 434.13 842.52 432.96 842.52C431.79 842.52 430.56 841.96 429.45 840.92C428.33 839.89 427.23 838.27 426.28 836.3C425.33 834.32 424.45 831.8 423.76 829.09C423.07 826.37 422.51 823.2 422.15 820.01C421.79 816.81 421.59 813.29 421.59 809.94C421.59 806.58 421.79 803.06 422.15 799.87C422.51 796.68 423.07 793.5 423.76 790.79C424.45 788.07 425.33 785.55 426.28 783.58C427.23 781.6 428.33 779.99 429.45 778.95C430.56 777.91 431.79 777.35 432.96 777.35C434.13 777.35 435.36 777.91 436.48 778.95C437.59 779.99 438.7 781.6 439.65 783.58C440.59 785.55 441.47 788.07 442.16 790.79C442.85 793.5 443.41 796.68 443.78 799.87C444.14 803.06 444.33 806.58 444.33 809.94Z" fill="none" stroke="#5cb85c" stroke-width="2.15" stroke-linejoin="round"/>
</g>
<path d="M429.7 717.55V934.5M321 833.8H538.5" stroke="#ff7f0e" stroke-width="2.25" fill="none"/>
<rect x="424.5" y="828.6" width="10.4" height="10.4" fill="#ff7f0e"/>
<g clip-path="url(#cp32)">
<circle cx="721.2" cy="748.5" r="1.3" fill="#c3d3ea"/>
<path d="M561 753.1C561.6 751.7 562.58 747.1 564.6 744.7C566.62 742.3 569.68 740.2 573.1 738.7C576.52 737.2 581.1 736.07 585.1 735.7C589.1 735.33 592.68 735.7 597.1 736.5C601.52 737.3 607.58 739.63 611.6 740.5C615.62 741.37 617.58 741.7 621.2 741.7C624.82 741.7 629.28 741.2 633.3 740.5C637.32 739.8 641.3 738.2 645.3 737.5C649.3 736.8 652.67 735.6 657.3 736.3C661.93 737 668.47 740.1 673.1 741.7C677.73 743.3 681.1 744.47 685.1 745.9C689.1 747.33 694.18 748.68 697.1 750.3C700.02 751.92 700.9 753.45 702.6 755.6C704.3 757.75 705.9 760.6 707.3 763.2C708.7 765.8 710.12 768.27 711 771.2C711.88 774.13 712.55 777.6 712.6 780.8C712.65 784 711.37 787.4 711.3 790.4C711.23 793.4 711.35 796.18 712.2 798.8C713.05 801.42 714.5 803.68 716.4 806.1C718.3 808.52 721.2 810.7 723.6 813.3C726 815.9 728.38 818.9 730.8 821.7C733.22 824.5 736.08 827.87 738.1 830.1C740.12 832.33 741.1 832.67 742.9 835.1C744.7 837.53 747.1 841.7 748.9 844.7C750.7 847.7 752.6 850.8 753.7 853.1C754.8 855.4 755.2 857.6 755.5 858.5L755.5 858.5L761.5 858.5L761.5 858.5C761.7 860.02 762.7 864.48 762.7 867.6C762.7 870.72 761.7 874.7 761.5 877.2C761.3 879.7 761.5 881.7 761.5 882.6L761.5 882.6L755.5 883.2L755.5 883.2C755.2 884 755 886 753.7 888C752.4 890 749.9 892.58 747.7 895.2C745.5 897.82 742.9 901.48 740.5 903.7C738.1 905.92 735.72 907.6 733.3 908.5C730.88 909.4 728.82 909.6 726 909.1C723.18 908.6 719.18 906.98 716.4 905.5C713.62 904.02 712.17 902.25 709.3 900.2C706.43 898.15 702.55 895.53 699.2 893.2C695.85 890.87 692.17 888.2 689.2 886.2C686.23 884.2 684.73 883.37 681.4 881.2C678.07 879.03 672.92 876.05 669.2 873.2C665.48 870.35 662.45 867.03 659.1 864.1C655.75 861.17 652.43 858.43 649.1 855.6C645.77 852.77 642.45 850.02 639.1 847.1C635.75 844.18 632.35 841.28 629 838.1C625.65 834.92 623.5 832.13 619 828C614.5 823.87 607.05 818.17 602 813.3C596.95 808.43 592.92 803.62 588.7 798.8C584.48 793.98 580.1 788.8 576.7 784.4C573.3 780 570.52 776.02 568.3 772.4C566.08 768.78 564.62 765.92 563.4 762.7C562.18 759.48 561.4 754.7 561 753.1Z" fill="#d2dbec"/>
<path d="M592.3 768.8C592.7 765.98 594.68 763.22 597.1 761.5C599.52 759.78 602.78 759 606.8 758.5C610.82 758 616.78 758.2 621.2 758.5C625.62 758.8 629.28 759.2 633.3 760.3C637.32 761.4 641.3 762.88 645.3 765.1C649.3 767.32 653.07 770.18 657.3 773.6C661.53 777.02 666.47 782 670.7 785.6C674.93 789.2 679.1 792.38 682.7 795.2C686.3 798.02 689.08 799.68 692.3 802.5C695.52 805.32 698.78 808.7 702 812.1C705.22 815.5 708.6 819.28 711.6 822.9C714.6 826.52 716.8 829.97 720 833.8C723.2 837.63 728.18 842.28 730.8 845.9C733.42 849.52 734.48 852.3 735.7 855.5C736.92 858.7 738 861.88 738.1 865.1C738.2 868.32 737.3 871.98 736.3 874.8C735.3 877.62 734.02 880.37 732.1 882C730.18 883.63 727.42 884.47 724.8 884.6C722.18 884.73 718.98 883.53 716.4 882.8C713.82 882.07 712.17 881.47 709.3 880.2C706.43 878.93 702.55 876.95 699.2 875.2C695.85 873.45 692.17 871.38 689.2 869.7C686.23 868.02 684.73 867.37 681.4 865.1C678.07 862.83 672.92 858.93 669.2 856.1C665.48 853.27 662.45 850.93 659.1 848.1C655.75 845.27 652.43 842.12 649.1 839.1C645.77 836.08 642.13 832.77 639.1 830C636.07 827.23 634.28 825.58 630.9 822.5C627.52 819.42 622.42 815.03 618.8 811.5C615.18 807.97 612.2 805.02 609.2 801.3C606.2 797.58 603.22 793.02 600.8 789.2C598.38 785.38 596.12 781.8 594.7 778.4C593.28 775 591.9 771.62 592.3 768.8Z" fill="#a5b8d9"/>
<path d="M630.7 790.6L635.4 785.9L635.4 785.9C636.3 786.22 638.5 786.88 640.8 787.8C643.1 788.72 645.8 789.78 649.2 791.4C652.6 793.02 657.18 795.08 661.2 797.5C665.22 799.92 669.68 803.3 673.3 805.9C676.92 808.5 679.7 810.3 682.9 813.1C686.1 815.9 689.7 819.48 692.5 822.7C695.3 825.92 697.68 829.18 699.7 832.4C701.72 835.62 703.77 839.4 704.6 842C705.43 844.6 705.72 846.4 704.7 848C703.68 849.6 700.93 851.4 698.5 851.6C696.07 851.8 693.32 850.53 690.1 849.2C686.88 847.87 682.68 845.62 679.2 843.6C675.72 841.58 672.55 839.7 669.2 837.1C665.85 834.5 662.43 831.1 659.1 828C655.77 824.9 652.87 822.5 649.2 818.5C645.53 814.5 640.18 808.65 637.1 804C634.02 799.35 631.77 792.83 630.7 790.6Z" fill="#4068ae"/>
<path d="M553.8 721.8L580.9 722.1L582.7 723.6L582.7 728.4L582.7 728.4C585.1 729.52 592.28 732.98 597.1 735.1C601.92 737.22 606.78 738.7 611.6 741.1C616.42 743.5 621.18 746.5 626 749.5C630.82 752.5 635.68 755.68 640.5 759.1C645.32 762.52 650.15 766.18 654.9 770C659.65 773.82 663.97 777.8 669 782C674.03 786.2 680.42 791.38 685.1 795.2C689.78 799.02 693.08 801.68 697.1 804.9C701.12 808.12 705.18 811.3 709.2 814.5C713.22 817.7 717.18 820.67 721.2 824.1C725.22 827.53 729.68 831.27 733.3 835.1C736.92 838.93 740.1 843.5 742.9 847.1C745.7 850.7 748.1 853.8 750.1 856.7C752.1 859.6 754.1 863.2 754.9 864.5L754.9 864.5L761.5 864.5L761.5 864.5C761.8 866.22 763.3 870.68 763.3 874.8C763.3 878.92 761.8 886.8 761.5 889.2L761.5 889.2L755.5 888.6L755.5 888.6C755 889.2 754.2 890.8 752.5 892.2C750.8 893.6 748.1 895.8 745.3 897C742.5 898.2 738.92 899.3 735.7 899.4C732.48 899.5 729.22 898.6 726 897.6C722.78 896.6 719.18 894.8 716.4 893.4C713.62 892 712.17 891.07 709.3 889.2C706.43 887.33 702.55 884.53 699.2 882.2C695.85 879.87 692.17 877.2 689.2 875.2C686.23 873.2 684.73 872.38 681.4 870.2C678.07 868.02 672.92 864.53 669.2 862.1C665.48 859.67 662.45 858.02 659.1 855.6C655.75 853.18 652.43 850.18 649.1 847.6C645.77 845.02 642.45 842.7 639.1 840.1C635.75 837.5 632.35 834.68 629 832C625.65 829.32 621.9 826.33 619 824C616.1 821.67 615.25 821 611.6 818C607.95 815 601.92 810.25 597.1 806C592.28 801.75 587.1 796.7 582.7 792.5C578.3 788.3 574.42 784.65 570.7 780.8C566.98 776.95 562.12 771.3 560.4 769.4L560.4 769.4L553.8 768.8L553.8 768.8C553.5 767.18 552.5 762.72 552 759.1C551.5 755.48 550.8 751.1 550.8 747.1C550.8 743.1 551.5 739.32 552 735.1C552.5 730.88 553.5 724.02 553.8 721.8Z" fill="#d6edd6"/>
<path d="M577.9 756.7C577.9 753.98 578.7 752 580.3 750.7C581.9 749.4 584.7 748.9 587.5 748.9C590.3 748.9 593.48 749.6 597.1 750.7C600.72 751.8 605.18 753.9 609.2 755.5C613.22 757.1 617.18 758.7 621.2 760.3C625.22 761.9 629.28 763.08 633.3 765.1C637.32 767.12 641.3 769.78 645.3 772.4C649.3 775.02 653.35 777.8 657.3 780.8C661.25 783.8 664.37 786.12 669 790.4C673.63 794.68 680.42 801.82 685.1 806.5C689.78 811.18 693.62 814.92 697.1 818.5C700.58 822.08 703.18 825.33 706 828C708.82 830.67 711.07 831.52 714 834.5C716.93 837.48 720.8 842 723.6 845.9C726.4 849.8 729.08 854.28 730.8 857.9C732.52 861.52 733.68 864.78 733.9 867.6C734.12 870.42 733.42 873.2 732.1 874.8C730.78 876.4 728.18 876.97 726 877.2C723.82 877.43 721.78 877.03 719 876.2C716.22 875.37 712.6 873.7 709.3 872.2C706 870.7 702.55 868.97 699.2 867.2C695.85 865.43 692.17 863.28 689.2 861.6C686.23 859.92 683.9 858.52 681.4 857.1C678.9 855.68 677.08 854.77 674.2 853.1C671.32 851.43 667.45 849.35 664.1 847.1C660.75 844.85 657.43 842.12 654.1 839.6C650.77 837.08 647.45 834.6 644.1 832C640.75 829.4 637.18 826.5 634 824C630.82 821.5 628.33 819.67 625 817C621.67 814.33 617.83 811.25 614 808C610.17 804.75 605.62 801.08 602 797.5C598.38 793.92 595.12 790 592.3 786.5C589.48 783 587.1 779.75 585.1 776.5C583.1 773.25 581.5 770.3 580.3 767C579.1 763.7 577.9 759.42 577.9 756.7Z" fill="#aedcae"/>
<path d="M610.4 779.6C609.35 776.52 612.2 776.7 614 776C615.8 775.3 618.38 775 621.2 775.4C624.02 775.8 627.68 777.1 630.9 778.4C634.12 779.7 637.1 781.4 640.5 783.2C643.9 785 648 786.68 651.3 789.2C654.6 791.72 657.02 795.37 660.3 798.3C663.58 801.23 667.55 803.92 671 806.8C674.45 809.68 677.98 812.82 681 815.6C684.02 818.38 686.77 820.9 689.1 823.5C691.43 826.1 693.52 828.95 695 831.2C696.48 833.45 697.58 835.2 698 837C698.42 838.8 698.63 840.65 697.5 842C696.37 843.35 693.58 845 691.2 845.1C688.82 845.2 686.18 843.7 683.2 842.6C680.22 841.5 677.77 840.93 673.3 838.5C668.83 836.07 662.43 832.42 656.4 828C650.37 823.58 643.12 817.58 637.1 812C631.08 806.42 624.75 799.9 620.3 794.5C615.85 789.1 611.45 782.68 610.4 779.6Z" fill="#5cb85c"/>
<path d="M561 753.1C561.6 751.7 562.58 747.1 564.6 744.7C566.62 742.3 569.68 740.2 573.1 738.7C576.52 737.2 581.1 736.07 585.1 735.7C589.1 735.33 592.68 735.7 597.1 736.5C601.52 737.3 607.58 739.63 611.6 740.5C615.62 741.37 617.58 741.7 621.2 741.7C624.82 741.7 629.28 741.2 633.3 740.5C637.32 739.8 641.3 738.2 645.3 737.5C649.3 736.8 652.67 735.6 657.3 736.3C661.93 737 668.47 740.1 673.1 741.7C677.73 743.3 681.1 744.47 685.1 745.9C689.1 747.33 694.18 748.68 697.1 750.3C700.02 751.92 700.9 753.45 702.6 755.6C704.3 757.75 705.9 760.6 707.3 763.2C708.7 765.8 710.12 768.27 711 771.2C711.88 774.13 712.55 777.6 712.6 780.8C712.65 784 711.37 787.4 711.3 790.4C711.23 793.4 711.35 796.18 712.2 798.8C713.05 801.42 714.5 803.68 716.4 806.1C718.3 808.52 721.2 810.7 723.6 813.3C726 815.9 728.38 818.9 730.8 821.7C733.22 824.5 736.08 827.87 738.1 830.1C740.12 832.33 741.1 832.67 742.9 835.1C744.7 837.53 747.1 841.7 748.9 844.7C750.7 847.7 752.6 850.8 753.7 853.1C754.8 855.4 755.2 857.6 755.5 858.5L755.5 858.5L761.5 858.5L761.5 858.5C761.7 860.02 762.7 864.48 762.7 867.6C762.7 870.72 761.7 874.7 761.5 877.2C761.3 879.7 761.5 881.7 761.5 882.6L761.5 882.6L755.5 883.2L755.5 883.2C755.2 884 755 886 753.7 888C752.4 890 749.9 892.58 747.7 895.2C745.5 897.82 742.9 901.48 740.5 903.7C738.1 905.92 735.72 907.6 733.3 908.5C730.88 909.4 728.82 909.6 726 909.1C723.18 908.6 719.18 906.98 716.4 905.5C713.62 904.02 712.17 902.25 709.3 900.2C706.43 898.15 702.55 895.53 699.2 893.2C695.85 890.87 692.17 888.2 689.2 886.2C686.23 884.2 684.73 883.37 681.4 881.2C678.07 879.03 672.92 876.05 669.2 873.2C665.48 870.35 662.45 867.03 659.1 864.1C655.75 861.17 652.43 858.43 649.1 855.6C645.77 852.77 642.45 850.02 639.1 847.1C635.75 844.18 632.35 841.28 629 838.1C625.65 834.92 623.5 832.13 619 828C614.5 823.87 607.05 818.17 602 813.3C596.95 808.43 592.92 803.62 588.7 798.8C584.48 793.98 580.1 788.8 576.7 784.4C573.3 780 570.52 776.02 568.3 772.4C566.08 768.78 564.62 765.92 563.4 762.7C562.18 759.48 561.4 754.7 561 753.1Z" fill="none" stroke="#4068ae" stroke-width="2.15" stroke-linejoin="round"/>
<path d="M592.3 768.8C592.7 765.98 594.68 763.22 597.1 761.5C599.52 759.78 602.78 759 606.8 758.5C610.82 758 616.78 758.2 621.2 758.5C625.62 758.8 629.28 759.2 633.3 760.3C637.32 761.4 641.3 762.88 645.3 765.1C649.3 767.32 653.07 770.18 657.3 773.6C661.53 777.02 666.47 782 670.7 785.6C674.93 789.2 679.1 792.38 682.7 795.2C686.3 798.02 689.08 799.68 692.3 802.5C695.52 805.32 698.78 808.7 702 812.1C705.22 815.5 708.6 819.28 711.6 822.9C714.6 826.52 716.8 829.97 720 833.8C723.2 837.63 728.18 842.28 730.8 845.9C733.42 849.52 734.48 852.3 735.7 855.5C736.92 858.7 738 861.88 738.1 865.1C738.2 868.32 737.3 871.98 736.3 874.8C735.3 877.62 734.02 880.37 732.1 882C730.18 883.63 727.42 884.47 724.8 884.6C722.18 884.73 718.98 883.53 716.4 882.8C713.82 882.07 712.17 881.47 709.3 880.2C706.43 878.93 702.55 876.95 699.2 875.2C695.85 873.45 692.17 871.38 689.2 869.7C686.23 868.02 684.73 867.37 681.4 865.1C678.07 862.83 672.92 858.93 669.2 856.1C665.48 853.27 662.45 850.93 659.1 848.1C655.75 845.27 652.43 842.12 649.1 839.1C645.77 836.08 642.13 832.77 639.1 830C636.07 827.23 634.28 825.58 630.9 822.5C627.52 819.42 622.42 815.03 618.8 811.5C615.18 807.97 612.2 805.02 609.2 801.3C606.2 797.58 603.22 793.02 600.8 789.2C598.38 785.38 596.12 781.8 594.7 778.4C593.28 775 591.9 771.62 592.3 768.8Z" fill="none" stroke="#4068ae" stroke-width="2.15" stroke-linejoin="round"/>
<path d="M630.7 790.6L635.4 785.9L635.4 785.9C636.3 786.22 638.5 786.88 640.8 787.8C643.1 788.72 645.8 789.78 649.2 791.4C652.6 793.02 657.18 795.08 661.2 797.5C665.22 799.92 669.68 803.3 673.3 805.9C676.92 808.5 679.7 810.3 682.9 813.1C686.1 815.9 689.7 819.48 692.5 822.7C695.3 825.92 697.68 829.18 699.7 832.4C701.72 835.62 703.77 839.4 704.6 842C705.43 844.6 705.72 846.4 704.7 848C703.68 849.6 700.93 851.4 698.5 851.6C696.07 851.8 693.32 850.53 690.1 849.2C686.88 847.87 682.68 845.62 679.2 843.6C675.72 841.58 672.55 839.7 669.2 837.1C665.85 834.5 662.43 831.1 659.1 828C655.77 824.9 652.87 822.5 649.2 818.5C645.53 814.5 640.18 808.65 637.1 804C634.02 799.35 631.77 792.83 630.7 790.6Z" fill="none" stroke="#4068ae" stroke-width="2.15" stroke-linejoin="round"/>
<path d="M553.8 721.8L580.9 722.1L582.7 723.6L582.7 728.4L582.7 728.4C585.1 729.52 592.28 732.98 597.1 735.1C601.92 737.22 606.78 738.7 611.6 741.1C616.42 743.5 621.18 746.5 626 749.5C630.82 752.5 635.68 755.68 640.5 759.1C645.32 762.52 650.15 766.18 654.9 770C659.65 773.82 663.97 777.8 669 782C674.03 786.2 680.42 791.38 685.1 795.2C689.78 799.02 693.08 801.68 697.1 804.9C701.12 808.12 705.18 811.3 709.2 814.5C713.22 817.7 717.18 820.67 721.2 824.1C725.22 827.53 729.68 831.27 733.3 835.1C736.92 838.93 740.1 843.5 742.9 847.1C745.7 850.7 748.1 853.8 750.1 856.7C752.1 859.6 754.1 863.2 754.9 864.5L754.9 864.5L761.5 864.5L761.5 864.5C761.8 866.22 763.3 870.68 763.3 874.8C763.3 878.92 761.8 886.8 761.5 889.2L761.5 889.2L755.5 888.6L755.5 888.6C755 889.2 754.2 890.8 752.5 892.2C750.8 893.6 748.1 895.8 745.3 897C742.5 898.2 738.92 899.3 735.7 899.4C732.48 899.5 729.22 898.6 726 897.6C722.78 896.6 719.18 894.8 716.4 893.4C713.62 892 712.17 891.07 709.3 889.2C706.43 887.33 702.55 884.53 699.2 882.2C695.85 879.87 692.17 877.2 689.2 875.2C686.23 873.2 684.73 872.38 681.4 870.2C678.07 868.02 672.92 864.53 669.2 862.1C665.48 859.67 662.45 858.02 659.1 855.6C655.75 853.18 652.43 850.18 649.1 847.6C645.77 845.02 642.45 842.7 639.1 840.1C635.75 837.5 632.35 834.68 629 832C625.65 829.32 621.9 826.33 619 824C616.1 821.67 615.25 821 611.6 818C607.95 815 601.92 810.25 597.1 806C592.28 801.75 587.1 796.7 582.7 792.5C578.3 788.3 574.42 784.65 570.7 780.8C566.98 776.95 562.12 771.3 560.4 769.4L560.4 769.4L553.8 768.8L553.8 768.8C553.5 767.18 552.5 762.72 552 759.1C551.5 755.48 550.8 751.1 550.8 747.1C550.8 743.1 551.5 739.32 552 735.1C552.5 730.88 553.5 724.02 553.8 721.8Z" fill="none" stroke="#5cb85c" stroke-width="2.15" stroke-linejoin="round"/>
<path d="M577.9 756.7C577.9 753.98 578.7 752 580.3 750.7C581.9 749.4 584.7 748.9 587.5 748.9C590.3 748.9 593.48 749.6 597.1 750.7C600.72 751.8 605.18 753.9 609.2 755.5C613.22 757.1 617.18 758.7 621.2 760.3C625.22 761.9 629.28 763.08 633.3 765.1C637.32 767.12 641.3 769.78 645.3 772.4C649.3 775.02 653.35 777.8 657.3 780.8C661.25 783.8 664.37 786.12 669 790.4C673.63 794.68 680.42 801.82 685.1 806.5C689.78 811.18 693.62 814.92 697.1 818.5C700.58 822.08 703.18 825.33 706 828C708.82 830.67 711.07 831.52 714 834.5C716.93 837.48 720.8 842 723.6 845.9C726.4 849.8 729.08 854.28 730.8 857.9C732.52 861.52 733.68 864.78 733.9 867.6C734.12 870.42 733.42 873.2 732.1 874.8C730.78 876.4 728.18 876.97 726 877.2C723.82 877.43 721.78 877.03 719 876.2C716.22 875.37 712.6 873.7 709.3 872.2C706 870.7 702.55 868.97 699.2 867.2C695.85 865.43 692.17 863.28 689.2 861.6C686.23 859.92 683.9 858.52 681.4 857.1C678.9 855.68 677.08 854.77 674.2 853.1C671.32 851.43 667.45 849.35 664.1 847.1C660.75 844.85 657.43 842.12 654.1 839.6C650.77 837.08 647.45 834.6 644.1 832C640.75 829.4 637.18 826.5 634 824C630.82 821.5 628.33 819.67 625 817C621.67 814.33 617.83 811.25 614 808C610.17 804.75 605.62 801.08 602 797.5C598.38 793.92 595.12 790 592.3 786.5C589.48 783 587.1 779.75 585.1 776.5C583.1 773.25 581.5 770.3 580.3 767C579.1 763.7 577.9 759.42 577.9 756.7Z" fill="none" stroke="#5cb85c" stroke-width="2.15" stroke-linejoin="round"/>
<path d="M610.4 779.6C609.35 776.52 612.2 776.7 614 776C615.8 775.3 618.38 775 621.2 775.4C624.02 775.8 627.68 777.1 630.9 778.4C634.12 779.7 637.1 781.4 640.5 783.2C643.9 785 648 786.68 651.3 789.2C654.6 791.72 657.02 795.37 660.3 798.3C663.58 801.23 667.55 803.92 671 806.8C674.45 809.68 677.98 812.82 681 815.6C684.02 818.38 686.77 820.9 689.1 823.5C691.43 826.1 693.52 828.95 695 831.2C696.48 833.45 697.58 835.2 698 837C698.42 838.8 698.63 840.65 697.5 842C696.37 843.35 693.58 845 691.2 845.1C688.82 845.2 686.18 843.7 683.2 842.6C680.22 841.5 677.77 840.93 673.3 838.5C668.83 836.07 662.43 832.42 656.4 828C650.37 823.58 643.12 817.58 637.1 812C631.08 806.42 624.75 799.9 620.3 794.5C615.85 789.1 611.45 782.68 610.4 779.6Z" fill="none" stroke="#5cb85c" stroke-width="2.15" stroke-linejoin="round"/>
</g>
<path d="M681.3 717.55V934.5M549.63 833.8H766.7" stroke="#ff7f0e" stroke-width="2.25" fill="none"/>
<rect x="676.1" y="828.6" width="10.4" height="10.4" fill="#ff7f0e"/>
<g clip-path="url(#cp00)">
<path d="M130.42 249.3V248.6H136.06V248.6H141.7V248.5H147.34V248.4H152.98V244.9H158.62V244.9H164.26V239H169.9V237.2H175.54V228.7H181.18V224.4H186.82V219.4H192.46V217.6H198.1V211.7H203.74V211.7H209.38V207.3H215.02V214.9H220.66V222.8H226.3V228.7H231.94V234.3H237.58V239.9H243.22V239.3H248.86V242.9H254.5V244.9H260.14V246.7H265.78V248.1H271.42V249.3" fill="none" stroke="#4068ae" stroke-width="1.8" stroke-linejoin="miter"/>
<path d="M186.82 249.3V247.2H192.46V199.8H198.1V41.4H203.74V131.6H209.38V240.2H215.02V248.3H220.66V249.3" fill="none" stroke="#5cb85c" stroke-width="1.3" stroke-linejoin="miter"/>
<path d="M183 249.3V31.3" stroke="#4068ae" stroke-width="2.25" stroke-dasharray="8.4 3.66" fill="none"/>
<path d="M228.8 249.3V31.3" stroke="#4068ae" stroke-width="2.25" stroke-dasharray="8.4 3.66" fill="none"/>
<path d="M198.4 249.3V31.3" stroke="#5cb85c" stroke-width="2.25" stroke-dasharray="8.4 3.66" fill="none"/>
<path d="M205.7 249.3V31.3" stroke="#5cb85c" stroke-width="2.25" stroke-dasharray="8.4 3.66" fill="none"/>
</g>
<path d="M200.9 31.3V249.3" stroke="#ff7f0e" stroke-width="2.25" fill="none"/>
<g clip-path="url(#cp11)">
<path d="M352.81 477.55V476.6H358.5V474.5H364.19V469.7H369.88V468.8H375.57V462.5H381.26V464.8H386.95V459.7H392.64V451.6H398.33V451.6H404.02V441.5H409.71V431.8H415.4V433.7H421.09V433.7H426.78V431.6H432.47V436.1H438.16V432.9H443.85V453.5H449.54V451.9H455.23V451.6H460.92V456.7H466.61V471.3H472.3V467.7H477.99V467.7H483.68V472.5H489.37V475.4H495.06V475.8H500.75V475.8H506.44V476.5H512.13V477.55" fill="none" stroke="#4068ae" stroke-width="1.7" stroke-linejoin="miter"/>
<path d="M409.71 477.55V476.7H415.4V468.3H421.09V408.8H426.78V265.2H432.47V272H438.16V417.6H443.85V471.3H449.54V477.55" fill="none" stroke="#5cb85c" stroke-width="1.3" stroke-linejoin="miter"/>
<path d="M398 477.55V260.25" stroke="#4068ae" stroke-width="2.25" stroke-dasharray="8.4 3.66" fill="none"/>
<path d="M454 477.55V260.25" stroke="#4068ae" stroke-width="2.25" stroke-dasharray="8.4 3.66" fill="none"/>
<path d="M427.7 477.55V260.25" stroke="#5cb85c" stroke-width="2.25" stroke-dasharray="8.4 3.66" fill="none"/>
<path d="M437.3 477.55V260.25" stroke="#5cb85c" stroke-width="2.25" stroke-dasharray="8.4 3.66" fill="none"/>
</g>
<path d="M429.7 260.25V477.55" stroke="#ff7f0e" stroke-width="2.25" fill="none"/>
<g clip-path="url(#cp22)">
<path d="M564.68 706.33V703.3H570.36V706.33H576.04V703.3H581.72V690.3H587.4V690.3H593.08V685.2H598.76V687.7H604.44V661H610.12V661H615.8V626.9H621.48V613.5H627.16V610.5H632.84V573.5H638.52V581.3H644.2V554.4H649.88V522.9H655.56V528H661.24V544H666.92V498.8H672.6V525.1H678.28V498.8H683.96V551.8H689.64V533.5H695.32V550.6H701V599.7H706.68V636.8H712.36V605.2H718.04V647.8H723.72V645.8H729.4V677H735.08V692.7H740.76V706.33" fill="none" stroke="#4068ae" stroke-width="1.55" stroke-linejoin="miter"/>
<path d="M559 706.33V705.3H564.68V697.8H570.36V696.8H576.04V679.7H581.72V676.2H587.4V660.7H593.08V650.6H598.76V634.9H604.44V622.2H610.12V612.5H615.8V574.4H621.48V557.8H627.16V563.8H632.84V565.6H638.52V540.6H644.2V557.8H649.88V549.7H655.56V547.6H661.24V561.7H666.92V549.7H672.6V554.2H678.28V604.2H683.96V570.8H689.64V600.5H695.32V590.3H701V628.2H706.68V635.9H712.36V641.3H718.04V665.5H723.72V660.2H729.4V679.4H735.08V683.6H740.76V701.9H746.44V706.33" fill="none" stroke="#5cb85c" stroke-width="1.45" stroke-linejoin="miter"/>
<path d="M634.8 706.33V488.54" stroke="#4068ae" stroke-width="2.25" stroke-dasharray="8.4 3.66" fill="none"/>
<path d="M699.8 706.33V488.54" stroke="#4068ae" stroke-width="2.25" stroke-dasharray="8.4 3.66" fill="none"/>
<path d="M617.7 706.33V488.54" stroke="#5cb85c" stroke-width="2.25" stroke-dasharray="8.4 3.66" fill="none"/>
<path d="M695.1 706.33V488.54" stroke="#5cb85c" stroke-width="2.25" stroke-dasharray="8.4 3.66" fill="none"/>
</g>
<path d="M681.3 488.54V706.33" stroke="#ff7f0e" stroke-width="2.25" fill="none"/>
<g clip-path="url(#cp33)">
<path d="M799 934.5V932.4H804.68V934.5H810.36V934.5H816.04V932.4H821.72V922.4H827.4V927.4H833.08V904.8H838.76V902.6H844.44V868.4H850.12V868.4H855.8V828.7H861.48V811.7H867.16V793.7H872.84V774.1H878.52V759.5H884.2V727.7H889.88V730H895.56V730H901.24V755.1H906.92V761.7H912.6V793.7H918.28V806.9H923.96V783.7H929.64V816.2H935.32V853.6H941V876H946.68V895.4H952.36V889.9H958.04V922.4H963.72V927H969.4V934.5" fill="none" stroke="#4068ae" stroke-width="1.5" stroke-linejoin="miter"/>
<path d="M827.4 934.5V924.1H833.08V904.8H838.76V902.6H844.44V889.3H850.12V870H855.8V865.4H861.48V825.7H867.16V808.6H872.84V798.1H878.52V786.3H884.2V760.6H889.88V755.6H895.56V752.5H901.24V755.1H906.92V736.3H912.6V752.9H918.28V754.5H923.96V777.1H929.64V798.6H935.32V829.8H941V852.3H946.68V880.4H952.36V887.4H958.04V907.6H963.72V918.4H969.4V932.6H975.08V934.5" fill="none" stroke="#5cb85c" stroke-width="1.45" stroke-linejoin="miter"/>
<path d="M866 934.5V717.55" stroke="#4068ae" stroke-width="2.25" stroke-dasharray="8.4 3.66" fill="none"/>
<path d="M926.1 934.5V717.55" stroke="#4068ae" stroke-width="2.25" stroke-dasharray="8.4 3.66" fill="none"/>
<path d="M870.3 934.5V717.55" stroke="#5cb85c" stroke-width="2.25" stroke-dasharray="8.4 3.66" fill="none"/>
<path d="M930.7 934.5V717.55" stroke="#5cb85c" stroke-width="2.25" stroke-dasharray="8.4 3.66" fill="none"/>
</g>
<path d="M879.1 717.55V934.5" stroke="#ff7f0e" stroke-width="2.25" fill="none"/>
<path d="M141.5 249.3v5.3M200.9 249.3v5.3M260.3 249.3v5.3" stroke="#000" stroke-width="1.2" fill="none"/>
<rect x="92.6" y="31.3" width="217.4" height="218" fill="none" stroke="#000" stroke-width="1.2"/>
<path d="M141.5 477.55v5.3M200.9 477.55v5.3M260.3 477.55v5.3M92.6 429h-5.3M92.6 368.6h-5.3M92.6 308.8h-5.3" stroke="#000" stroke-width="1.2" fill="none"/>
<rect x="92.6" y="260.25" width="217.4" height="217.3" fill="none" stroke="#000" stroke-width="1.2"/>
<path d="M369.9 477.55v5.3M429.7 477.55v5.3M489.4 477.55v5.3" stroke="#000" stroke-width="1.2" fill="none"/>
<rect x="321" y="260.25" width="217.5" height="217.3" fill="none" stroke="#000" stroke-width="1.2"/>
<path d="M141.5 706.33v5.3M200.9 706.33v5.3M260.3 706.33v5.3M92.6 697.6h-5.3M92.6 636.1h-5.3M92.6 574.2h-5.3M92.6 512.5h-5.3" stroke="#000" stroke-width="1.2" fill="none"/>
<rect x="92.6" y="488.54" width="217.4" height="217.79" fill="none" stroke="#000" stroke-width="1.2"/>
<path d="M369.9 706.33v5.3M429.7 706.33v5.3M489.4 706.33v5.3M321 697.6h-5.3M321 636.1h-5.3M321 574.2h-5.3M321 512.5h-5.3" stroke="#000" stroke-width="1.2" fill="none"/>
<rect x="321" y="488.54" width="217.5" height="217.79" fill="none" stroke="#000" stroke-width="1.2"/>
<path d="M557.9 706.33v5.3M619.6 706.33v5.3M681.3 706.33v5.3M743 706.33v5.3" stroke="#000" stroke-width="1.2" fill="none"/>
<rect x="549.63" y="488.54" width="217.07" height="217.79" fill="none" stroke="#000" stroke-width="1.2"/>
<path d="M141.5 934.5v5.3M200.9 934.5v5.3M260.3 934.5v5.3M92.6 926.1h-5.3M92.6 864.5h-5.3M92.6 802.9h-5.3M92.6 741.4h-5.3" stroke="#000" stroke-width="1.2" fill="none"/>
<rect x="92.6" y="717.55" width="217.4" height="216.95" fill="none" stroke="#000" stroke-width="1.2"/>
<path d="M369.9 934.5v5.3M429.7 934.5v5.3M489.4 934.5v5.3M321 926.1h-5.3M321 864.5h-5.3M321 802.9h-5.3M321 741.4h-5.3" stroke="#000" stroke-width="1.2" fill="none"/>
<rect x="321" y="717.55" width="217.5" height="216.95" fill="none" stroke="#000" stroke-width="1.2"/>
<path d="M557.9 934.5v5.3M619.6 934.5v5.3M681.3 934.5v5.3M743 934.5v5.3M549.63 926.1h-5.3M549.63 864.5h-5.3M549.63 802.9h-5.3M549.63 741.4h-5.3" stroke="#000" stroke-width="1.2" fill="none"/>
<rect x="549.63" y="717.55" width="217.07" height="216.95" fill="none" stroke="#000" stroke-width="1.2"/>
<path d="M787.9 934.5v5.3M848.8 934.5v5.3M909.7 934.5v5.3M970.6 934.5v5.3" stroke="#000" stroke-width="1.2" fill="none"/>
<rect x="777.84" y="717.55" width="217.86" height="216.95" fill="none" stroke="#000" stroke-width="1.2"/>
<g font-family="'DejaVu Sans','Liberation Sans',sans-serif" fill="#000">
<text transform="translate(141.1 965.65) rotate(-45)" text-anchor="middle" font-size="15.0" y="5.47">0.555</text>
<text transform="translate(200.5 965.65) rotate(-45)" text-anchor="middle" font-size="15.0" y="5.47">0.570</text>
<text transform="translate(259.9 965.65) rotate(-45)" text-anchor="middle" font-size="15.0" y="5.47">0.585</text>
<text transform="translate(369.5 965.65) rotate(-45)" text-anchor="middle" font-size="15.0" y="5.47">29.85</text>
<text transform="translate(429.3 965.65) rotate(-45)" text-anchor="middle" font-size="15.0" y="5.47">30.00</text>
<text transform="translate(489 965.65) rotate(-45)" text-anchor="middle" font-size="15.0" y="5.47">30.15</text>
<text transform="translate(557.5 960.6) rotate(-45)" text-anchor="middle" font-size="15.0" y="5.47">160</text>
<text transform="translate(619.2 960.6) rotate(-45)" text-anchor="middle" font-size="15.0" y="5.47">180</text>
<text transform="translate(680.9 960.6) rotate(-45)" text-anchor="middle" font-size="15.0" y="5.47">200</text>
<text transform="translate(742.6 960.6) rotate(-45)" text-anchor="middle" font-size="15.0" y="5.47">220</text>
<text transform="translate(787.5 958.91) rotate(-45)" text-anchor="middle" font-size="15.0" y="5.47">0.4</text>
<text transform="translate(848.4 958.91) rotate(-45)" text-anchor="middle" font-size="15.0" y="5.47">0.6</text>
<text transform="translate(909.3 958.91) rotate(-45)" text-anchor="middle" font-size="15.0" y="5.47">0.8</text>
<text transform="translate(970.2 958.91) rotate(-45)" text-anchor="middle" font-size="15.0" y="5.47">1.0</text>
<text transform="translate(60.65 443.35) rotate(-45)" text-anchor="middle" font-size="15.0" y="5.47">29.85</text>
<text transform="translate(60.65 382.95) rotate(-45)" text-anchor="middle" font-size="15.0" y="5.47">30.00</text>
<text transform="translate(60.65 323.15) rotate(-45)" text-anchor="middle" font-size="15.0" y="5.47">30.15</text>
<text transform="translate(65.7 706.9) rotate(-45)" text-anchor="middle" font-size="15.0" y="5.47">160</text>
<text transform="translate(65.7 645.4) rotate(-45)" text-anchor="middle" font-size="15.0" y="5.47">180</text>
<text transform="translate(65.7 583.5) rotate(-45)" text-anchor="middle" font-size="15.0" y="5.47">200</text>
<text transform="translate(65.7 521.8) rotate(-45)" text-anchor="middle" font-size="15.0" y="5.47">220</text>
<text transform="translate(67.39 933.71) rotate(-45)" text-anchor="middle" font-size="15.0" y="5.47">0.4</text>
<text transform="translate(67.39 872.11) rotate(-45)" text-anchor="middle" font-size="15.0" y="5.47">0.6</text>
<text transform="translate(67.39 810.51) rotate(-45)" text-anchor="middle" font-size="15.0" y="5.47">0.8</text>
<text transform="translate(67.39 749.01) rotate(-45)" text-anchor="middle" font-size="15.0" y="5.47">1.0</text>
<text x="202.6" y="21.9" font-size="23.5" text-anchor="end">0.571</text>
<text x="204.2" y="12.7" font-size="16.66">+0.006</text>
<text x="204.2" y="28.7" font-size="16.66">−0.006</text>
<text x="440.4" y="250.2" font-size="24.0" text-anchor="end">29.990</text>
<text x="441.6" y="241" font-size="16.66">+0.071</text>
<text x="441.6" y="257" font-size="16.66">−0.069</text>
<text x="671.8" y="478.3" font-size="24.0" text-anchor="end">195.850</text>
<text x="671.6" y="469.1" font-size="16.66">+10.238</text>
<text x="671.6" y="485.1" font-size="16.66">−11.135</text>
<text x="889" y="707.4" font-size="23.2" text-anchor="end">0.753</text>
<text x="889.5" y="698.2" font-size="16.66">+0.102</text>
<text x="889.5" y="714.2" font-size="16.66">−0.097</text>
<text x="193.7" y="1018.6" font-size="23.8"><tspan font-style="italic">q</tspan></text>
<text x="375.45" y="1019.4" font-size="23.8"><tspan font-family="'DejaVu Math TeX Gyre','DejaVu Serif',serif" font-size="22.3">ℳ</tspan><tspan font-style="italic" font-size="16.66" dy="3.6">c</tspan><tspan dy="-3.6" dx="1.8"> [M</tspan><tspan font-size="16.66" dy="3.2" dx="4.1">⊙</tspan><tspan dy="-3.2" dx="4.2">]</tspan></text>
<text x="608.16" y="1019.5" font-size="23.8"><tspan font-style="italic">d</tspan><tspan font-style="italic" font-size="16.66" dy="3.6">L</tspan><tspan dy="-3.6" dx="0.9"> [Mpc]</tspan></text>
<text x="872.37" y="1018.7" font-size="23.8"><tspan font-style="italic">θ</tspan><tspan font-style="italic" font-size="16.66" dy="5.4">jn</tspan></text>
<text transform="translate(21.9 368.9) rotate(-90)" x="-54.3" y="0" font-size="23.8"><tspan font-family="'DejaVu Math TeX Gyre','DejaVu Serif',serif" font-size="22.3">ℳ</tspan><tspan font-style="italic" font-size="16.66" dy="3.6">c</tspan><tspan dy="-3.6" dx="1.8"> [M</tspan><tspan font-size="16.66" dy="3.2" dx="4.1">⊙</tspan><tspan dy="-3.2" dx="4.2">]</tspan></text>
<text transform="translate(22.7 597.44) rotate(-90)" x="-50" y="0" font-size="23.8"><tspan font-style="italic">d</tspan><tspan font-style="italic" font-size="16.66" dy="3.6">L</tspan><tspan dy="-3.6" dx="0.9"> [Mpc]</tspan></text>
<text transform="translate(20.6 826.02) rotate(-90)" x="-14.4" y="0" font-size="23.8"><tspan font-style="italic">θ</tspan><tspan font-style="italic" font-size="16.66" dy="5.4">jn</tspan></text>
<rect x="683.1" y="45.7" width="297.8" height="92.5" rx="3.5" ry="3.5" fill="#fff" stroke="#d0d0d0" stroke-width="1.2"/>
<path d="M694 69.1H753" stroke="#4068ae" stroke-width="2.4"/>
<path d="M694 111.5H753" stroke="#5cb85c" stroke-width="2.4"/>
<text x="774.3" y="79.2" font-size="28.8">qBIRD</text>
<text x="774.3" y="120.7" font-size="28.8">Bilby dynesty</text>
</g>
</svg>
</body></html>
